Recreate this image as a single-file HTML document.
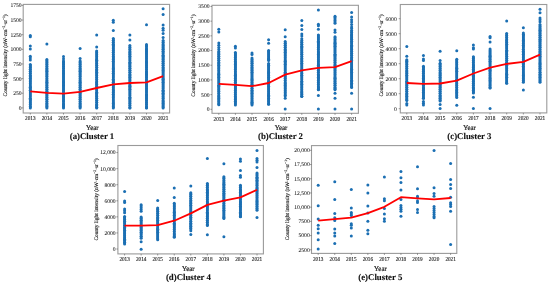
<!DOCTYPE html>
<html><head><meta charset="utf-8"><style>
html,body{margin:0;padding:0;background:#fff;}
body{width:550px;height:284px;overflow:hidden;}
svg{display:block;}
text{text-rendering:geometricPrecision;font-family:"Liberation Serif",serif;fill:#1a1a1a;stroke:#1a1a1a;stroke-width:0.06px;}
svg{will-change:transform;}
#wrap{width:550px;height:284px;}
.tk{font-size:5.6px;}
.tkx{font-size:5.95px;stroke-width:0.12px;}
.yl{font-size:5.45px;stroke-width:0.14px;}
.xl{font-size:7.2px;stroke-width:0.2px;}
.cap{font-size:8.8px;font-weight:bold;fill:#111;stroke:#111;stroke-width:0.1px;}
circle{fill:#1b6fb3;}
</style></head><body>
<div id="wrap"><svg width="550" height="284" viewBox="0 0 550 284">
<line x1="30.30" y1="65.10" x2="30.30" y2="107.30" stroke="#1b6fb3" stroke-width="2.5" stroke-linecap="round"/>
<circle cx="30.30" cy="64.50" r="1.5"/>
<circle cx="30.30" cy="65.95" r="1.5"/>
<circle cx="30.30" cy="67.55" r="1.5"/>
<circle cx="30.30" cy="69.30" r="1.5"/>
<circle cx="30.30" cy="71.20" r="1.5"/>
<circle cx="30.30" cy="73.25" r="1.5"/>
<circle cx="30.30" cy="75.45" r="1.5"/>
<circle cx="30.30" cy="76.83" r="1.5"/>
<circle cx="30.30" cy="78.35" r="1.5"/>
<circle cx="30.30" cy="80.03" r="1.5"/>
<circle cx="30.30" cy="81.85" r="1.5"/>
<circle cx="30.30" cy="83.83" r="1.5"/>
<circle cx="30.30" cy="85.95" r="1.5"/>
<circle cx="30.30" cy="87.25" r="1.5"/>
<circle cx="30.30" cy="88.70" r="1.5"/>
<circle cx="30.30" cy="90.30" r="1.5"/>
<circle cx="30.30" cy="92.05" r="1.5"/>
<circle cx="30.30" cy="93.95" r="1.5"/>
<circle cx="30.30" cy="96.00" r="1.5"/>
<circle cx="30.30" cy="98.20" r="1.5"/>
<circle cx="30.30" cy="99.58" r="1.5"/>
<circle cx="30.30" cy="101.10" r="1.5"/>
<circle cx="30.30" cy="102.78" r="1.5"/>
<circle cx="30.30" cy="104.60" r="1.5"/>
<circle cx="30.30" cy="106.58" r="1.5"/>
<circle cx="30.30" cy="107.90" r="1.5"/>
<circle cx="30.30" cy="60.00" r="1.5"/>
<circle cx="30.30" cy="58.10" r="1.5"/>
<circle cx="30.30" cy="56.20" r="1.5"/>
<circle cx="30.30" cy="49.00" r="1.5"/>
<circle cx="30.30" cy="45.90" r="1.5"/>
<circle cx="30.30" cy="36.80" r="1.5"/>
<circle cx="30.30" cy="35.40" r="1.5"/>
<line x1="46.90" y1="60.10" x2="46.90" y2="107.30" stroke="#1b6fb3" stroke-width="2.5" stroke-linecap="round"/>
<circle cx="46.90" cy="59.50" r="1.5"/>
<circle cx="46.90" cy="61.02" r="1.5"/>
<circle cx="46.90" cy="62.70" r="1.5"/>
<circle cx="46.90" cy="64.52" r="1.5"/>
<circle cx="46.90" cy="66.50" r="1.5"/>
<circle cx="46.90" cy="68.62" r="1.5"/>
<circle cx="46.90" cy="69.92" r="1.5"/>
<circle cx="46.90" cy="71.37" r="1.5"/>
<circle cx="46.90" cy="72.97" r="1.5"/>
<circle cx="46.90" cy="74.72" r="1.5"/>
<circle cx="46.90" cy="76.62" r="1.5"/>
<circle cx="46.90" cy="78.67" r="1.5"/>
<circle cx="46.90" cy="80.87" r="1.5"/>
<circle cx="46.90" cy="82.25" r="1.5"/>
<circle cx="46.90" cy="83.77" r="1.5"/>
<circle cx="46.90" cy="85.45" r="1.5"/>
<circle cx="46.90" cy="87.27" r="1.5"/>
<circle cx="46.90" cy="89.25" r="1.5"/>
<circle cx="46.90" cy="91.37" r="1.5"/>
<circle cx="46.90" cy="92.67" r="1.5"/>
<circle cx="46.90" cy="94.12" r="1.5"/>
<circle cx="46.90" cy="95.72" r="1.5"/>
<circle cx="46.90" cy="97.47" r="1.5"/>
<circle cx="46.90" cy="99.37" r="1.5"/>
<circle cx="46.90" cy="101.42" r="1.5"/>
<circle cx="46.90" cy="103.62" r="1.5"/>
<circle cx="46.90" cy="105.00" r="1.5"/>
<circle cx="46.90" cy="106.52" r="1.5"/>
<circle cx="46.90" cy="107.90" r="1.5"/>
<circle cx="46.90" cy="44.00" r="1.5"/>
<line x1="63.50" y1="61.60" x2="63.50" y2="107.30" stroke="#1b6fb3" stroke-width="2.5" stroke-linecap="round"/>
<circle cx="63.50" cy="61.00" r="1.5"/>
<circle cx="63.50" cy="62.60" r="1.5"/>
<circle cx="63.50" cy="64.35" r="1.5"/>
<circle cx="63.50" cy="66.25" r="1.5"/>
<circle cx="63.50" cy="68.30" r="1.5"/>
<circle cx="63.50" cy="70.50" r="1.5"/>
<circle cx="63.50" cy="71.88" r="1.5"/>
<circle cx="63.50" cy="73.40" r="1.5"/>
<circle cx="63.50" cy="75.08" r="1.5"/>
<circle cx="63.50" cy="76.90" r="1.5"/>
<circle cx="63.50" cy="78.88" r="1.5"/>
<circle cx="63.50" cy="81.00" r="1.5"/>
<circle cx="63.50" cy="82.30" r="1.5"/>
<circle cx="63.50" cy="83.75" r="1.5"/>
<circle cx="63.50" cy="85.35" r="1.5"/>
<circle cx="63.50" cy="87.10" r="1.5"/>
<circle cx="63.50" cy="89.00" r="1.5"/>
<circle cx="63.50" cy="91.05" r="1.5"/>
<circle cx="63.50" cy="93.25" r="1.5"/>
<circle cx="63.50" cy="94.62" r="1.5"/>
<circle cx="63.50" cy="96.15" r="1.5"/>
<circle cx="63.50" cy="97.83" r="1.5"/>
<circle cx="63.50" cy="99.65" r="1.5"/>
<circle cx="63.50" cy="101.62" r="1.5"/>
<circle cx="63.50" cy="103.75" r="1.5"/>
<circle cx="63.50" cy="105.05" r="1.5"/>
<circle cx="63.50" cy="106.50" r="1.5"/>
<circle cx="63.50" cy="107.90" r="1.5"/>
<circle cx="63.50" cy="58.70" r="1.5"/>
<circle cx="63.50" cy="56.50" r="1.5"/>
<line x1="80.10" y1="61.60" x2="80.10" y2="107.30" stroke="#1b6fb3" stroke-width="2.5" stroke-linecap="round"/>
<circle cx="80.10" cy="61.00" r="1.5"/>
<circle cx="80.10" cy="62.67" r="1.5"/>
<circle cx="80.10" cy="64.50" r="1.5"/>
<circle cx="80.10" cy="66.47" r="1.5"/>
<circle cx="80.10" cy="68.60" r="1.5"/>
<circle cx="80.10" cy="69.90" r="1.5"/>
<circle cx="80.10" cy="71.35" r="1.5"/>
<circle cx="80.10" cy="72.95" r="1.5"/>
<circle cx="80.10" cy="74.70" r="1.5"/>
<circle cx="80.10" cy="76.60" r="1.5"/>
<circle cx="80.10" cy="78.65" r="1.5"/>
<circle cx="80.10" cy="80.85" r="1.5"/>
<circle cx="80.10" cy="82.22" r="1.5"/>
<circle cx="80.10" cy="83.75" r="1.5"/>
<circle cx="80.10" cy="85.42" r="1.5"/>
<circle cx="80.10" cy="87.25" r="1.5"/>
<circle cx="80.10" cy="89.22" r="1.5"/>
<circle cx="80.10" cy="91.35" r="1.5"/>
<circle cx="80.10" cy="92.65" r="1.5"/>
<circle cx="80.10" cy="94.10" r="1.5"/>
<circle cx="80.10" cy="95.70" r="1.5"/>
<circle cx="80.10" cy="97.45" r="1.5"/>
<circle cx="80.10" cy="99.35" r="1.5"/>
<circle cx="80.10" cy="101.40" r="1.5"/>
<circle cx="80.10" cy="103.60" r="1.5"/>
<circle cx="80.10" cy="104.97" r="1.5"/>
<circle cx="80.10" cy="106.50" r="1.5"/>
<circle cx="80.10" cy="107.90" r="1.5"/>
<circle cx="80.10" cy="58.50" r="1.5"/>
<circle cx="80.10" cy="48.60" r="1.5"/>
<line x1="96.70" y1="51.60" x2="96.70" y2="107.30" stroke="#1b6fb3" stroke-width="2.5" stroke-linecap="round"/>
<circle cx="96.70" cy="51.00" r="1.5"/>
<circle cx="96.70" cy="52.75" r="1.5"/>
<circle cx="96.70" cy="54.65" r="1.5"/>
<circle cx="96.70" cy="56.70" r="1.5"/>
<circle cx="96.70" cy="58.90" r="1.5"/>
<circle cx="96.70" cy="60.27" r="1.5"/>
<circle cx="96.70" cy="61.80" r="1.5"/>
<circle cx="96.70" cy="63.47" r="1.5"/>
<circle cx="96.70" cy="65.30" r="1.5"/>
<circle cx="96.70" cy="67.27" r="1.5"/>
<circle cx="96.70" cy="69.40" r="1.5"/>
<circle cx="96.70" cy="70.70" r="1.5"/>
<circle cx="96.70" cy="72.15" r="1.5"/>
<circle cx="96.70" cy="73.75" r="1.5"/>
<circle cx="96.70" cy="75.50" r="1.5"/>
<circle cx="96.70" cy="77.40" r="1.5"/>
<circle cx="96.70" cy="79.45" r="1.5"/>
<circle cx="96.70" cy="81.65" r="1.5"/>
<circle cx="96.70" cy="83.02" r="1.5"/>
<circle cx="96.70" cy="84.55" r="1.5"/>
<circle cx="96.70" cy="86.22" r="1.5"/>
<circle cx="96.70" cy="88.05" r="1.5"/>
<circle cx="96.70" cy="90.02" r="1.5"/>
<circle cx="96.70" cy="92.15" r="1.5"/>
<circle cx="96.70" cy="93.45" r="1.5"/>
<circle cx="96.70" cy="94.90" r="1.5"/>
<circle cx="96.70" cy="96.50" r="1.5"/>
<circle cx="96.70" cy="98.25" r="1.5"/>
<circle cx="96.70" cy="100.15" r="1.5"/>
<circle cx="96.70" cy="102.20" r="1.5"/>
<circle cx="96.70" cy="104.40" r="1.5"/>
<circle cx="96.70" cy="105.77" r="1.5"/>
<circle cx="96.70" cy="107.30" r="1.5"/>
<circle cx="96.70" cy="107.90" r="1.5"/>
<circle cx="96.70" cy="46.90" r="1.5"/>
<circle cx="96.70" cy="34.90" r="1.5"/>
<line x1="113.30" y1="39.00" x2="113.30" y2="107.30" stroke="#1b6fb3" stroke-width="2.5" stroke-linecap="round"/>
<circle cx="113.30" cy="38.40" r="1.5"/>
<circle cx="113.30" cy="40.23" r="1.5"/>
<circle cx="113.30" cy="42.20" r="1.5"/>
<circle cx="113.30" cy="44.33" r="1.5"/>
<circle cx="113.30" cy="45.62" r="1.5"/>
<circle cx="113.30" cy="47.08" r="1.5"/>
<circle cx="113.30" cy="48.68" r="1.5"/>
<circle cx="113.30" cy="50.43" r="1.5"/>
<circle cx="113.30" cy="52.33" r="1.5"/>
<circle cx="113.30" cy="54.38" r="1.5"/>
<circle cx="113.30" cy="56.58" r="1.5"/>
<circle cx="113.30" cy="57.95" r="1.5"/>
<circle cx="113.30" cy="59.48" r="1.5"/>
<circle cx="113.30" cy="61.15" r="1.5"/>
<circle cx="113.30" cy="62.98" r="1.5"/>
<circle cx="113.30" cy="64.95" r="1.5"/>
<circle cx="113.30" cy="67.08" r="1.5"/>
<circle cx="113.30" cy="68.38" r="1.5"/>
<circle cx="113.30" cy="69.83" r="1.5"/>
<circle cx="113.30" cy="71.42" r="1.5"/>
<circle cx="113.30" cy="73.17" r="1.5"/>
<circle cx="113.30" cy="75.08" r="1.5"/>
<circle cx="113.30" cy="77.12" r="1.5"/>
<circle cx="113.30" cy="79.33" r="1.5"/>
<circle cx="113.30" cy="80.70" r="1.5"/>
<circle cx="113.30" cy="82.23" r="1.5"/>
<circle cx="113.30" cy="83.90" r="1.5"/>
<circle cx="113.30" cy="85.73" r="1.5"/>
<circle cx="113.30" cy="87.70" r="1.5"/>
<circle cx="113.30" cy="89.83" r="1.5"/>
<circle cx="113.30" cy="91.12" r="1.5"/>
<circle cx="113.30" cy="92.58" r="1.5"/>
<circle cx="113.30" cy="94.17" r="1.5"/>
<circle cx="113.30" cy="95.92" r="1.5"/>
<circle cx="113.30" cy="97.83" r="1.5"/>
<circle cx="113.30" cy="99.88" r="1.5"/>
<circle cx="113.30" cy="102.08" r="1.5"/>
<circle cx="113.30" cy="103.45" r="1.5"/>
<circle cx="113.30" cy="104.98" r="1.5"/>
<circle cx="113.30" cy="106.65" r="1.5"/>
<circle cx="113.30" cy="107.90" r="1.5"/>
<circle cx="113.30" cy="30.60" r="1.5"/>
<circle cx="113.30" cy="22.30" r="1.5"/>
<circle cx="113.30" cy="20.30" r="1.5"/>
<line x1="129.90" y1="46.10" x2="129.90" y2="107.30" stroke="#1b6fb3" stroke-width="2.5" stroke-linecap="round"/>
<circle cx="129.90" cy="45.50" r="1.5"/>
<circle cx="129.90" cy="47.40" r="1.5"/>
<circle cx="129.90" cy="49.45" r="1.5"/>
<circle cx="129.90" cy="51.65" r="1.5"/>
<circle cx="129.90" cy="53.02" r="1.5"/>
<circle cx="129.90" cy="54.55" r="1.5"/>
<circle cx="129.90" cy="56.22" r="1.5"/>
<circle cx="129.90" cy="58.05" r="1.5"/>
<circle cx="129.90" cy="60.02" r="1.5"/>
<circle cx="129.90" cy="62.15" r="1.5"/>
<circle cx="129.90" cy="63.45" r="1.5"/>
<circle cx="129.90" cy="64.90" r="1.5"/>
<circle cx="129.90" cy="66.50" r="1.5"/>
<circle cx="129.90" cy="68.25" r="1.5"/>
<circle cx="129.90" cy="70.15" r="1.5"/>
<circle cx="129.90" cy="72.20" r="1.5"/>
<circle cx="129.90" cy="74.40" r="1.5"/>
<circle cx="129.90" cy="75.77" r="1.5"/>
<circle cx="129.90" cy="77.30" r="1.5"/>
<circle cx="129.90" cy="78.97" r="1.5"/>
<circle cx="129.90" cy="80.80" r="1.5"/>
<circle cx="129.90" cy="82.77" r="1.5"/>
<circle cx="129.90" cy="84.90" r="1.5"/>
<circle cx="129.90" cy="86.20" r="1.5"/>
<circle cx="129.90" cy="87.65" r="1.5"/>
<circle cx="129.90" cy="89.25" r="1.5"/>
<circle cx="129.90" cy="91.00" r="1.5"/>
<circle cx="129.90" cy="92.90" r="1.5"/>
<circle cx="129.90" cy="94.95" r="1.5"/>
<circle cx="129.90" cy="97.15" r="1.5"/>
<circle cx="129.90" cy="98.52" r="1.5"/>
<circle cx="129.90" cy="100.05" r="1.5"/>
<circle cx="129.90" cy="101.72" r="1.5"/>
<circle cx="129.90" cy="103.55" r="1.5"/>
<circle cx="129.90" cy="105.52" r="1.5"/>
<circle cx="129.90" cy="107.65" r="1.5"/>
<circle cx="129.90" cy="107.90" r="1.5"/>
<circle cx="129.90" cy="40.10" r="1.5"/>
<circle cx="129.90" cy="34.90" r="1.5"/>
<line x1="146.50" y1="45.20" x2="146.50" y2="107.30" stroke="#1b6fb3" stroke-width="2.5" stroke-linecap="round"/>
<circle cx="146.50" cy="44.60" r="1.5"/>
<circle cx="146.50" cy="46.58" r="1.5"/>
<circle cx="146.50" cy="48.70" r="1.5"/>
<circle cx="146.50" cy="50.00" r="1.5"/>
<circle cx="146.50" cy="51.45" r="1.5"/>
<circle cx="146.50" cy="53.05" r="1.5"/>
<circle cx="146.50" cy="54.80" r="1.5"/>
<circle cx="146.50" cy="56.70" r="1.5"/>
<circle cx="146.50" cy="58.75" r="1.5"/>
<circle cx="146.50" cy="60.95" r="1.5"/>
<circle cx="146.50" cy="62.33" r="1.5"/>
<circle cx="146.50" cy="63.85" r="1.5"/>
<circle cx="146.50" cy="65.53" r="1.5"/>
<circle cx="146.50" cy="67.35" r="1.5"/>
<circle cx="146.50" cy="69.33" r="1.5"/>
<circle cx="146.50" cy="71.45" r="1.5"/>
<circle cx="146.50" cy="72.75" r="1.5"/>
<circle cx="146.50" cy="74.20" r="1.5"/>
<circle cx="146.50" cy="75.80" r="1.5"/>
<circle cx="146.50" cy="77.55" r="1.5"/>
<circle cx="146.50" cy="79.45" r="1.5"/>
<circle cx="146.50" cy="81.50" r="1.5"/>
<circle cx="146.50" cy="83.70" r="1.5"/>
<circle cx="146.50" cy="85.08" r="1.5"/>
<circle cx="146.50" cy="86.60" r="1.5"/>
<circle cx="146.50" cy="88.28" r="1.5"/>
<circle cx="146.50" cy="90.10" r="1.5"/>
<circle cx="146.50" cy="92.08" r="1.5"/>
<circle cx="146.50" cy="94.20" r="1.5"/>
<circle cx="146.50" cy="95.50" r="1.5"/>
<circle cx="146.50" cy="96.95" r="1.5"/>
<circle cx="146.50" cy="98.55" r="1.5"/>
<circle cx="146.50" cy="100.30" r="1.5"/>
<circle cx="146.50" cy="102.20" r="1.5"/>
<circle cx="146.50" cy="104.25" r="1.5"/>
<circle cx="146.50" cy="106.45" r="1.5"/>
<circle cx="146.50" cy="107.83" r="1.5"/>
<circle cx="146.50" cy="107.90" r="1.5"/>
<circle cx="146.50" cy="24.80" r="1.5"/>
<line x1="163.10" y1="41.10" x2="163.10" y2="107.30" stroke="#1b6fb3" stroke-width="2.5" stroke-linecap="round"/>
<circle cx="163.10" cy="40.50" r="1.5"/>
<circle cx="163.10" cy="42.55" r="1.5"/>
<circle cx="163.10" cy="44.75" r="1.5"/>
<circle cx="163.10" cy="46.12" r="1.5"/>
<circle cx="163.10" cy="47.65" r="1.5"/>
<circle cx="163.10" cy="49.32" r="1.5"/>
<circle cx="163.10" cy="51.15" r="1.5"/>
<circle cx="163.10" cy="53.12" r="1.5"/>
<circle cx="163.10" cy="55.25" r="1.5"/>
<circle cx="163.10" cy="56.55" r="1.5"/>
<circle cx="163.10" cy="58.00" r="1.5"/>
<circle cx="163.10" cy="59.60" r="1.5"/>
<circle cx="163.10" cy="61.35" r="1.5"/>
<circle cx="163.10" cy="63.25" r="1.5"/>
<circle cx="163.10" cy="65.30" r="1.5"/>
<circle cx="163.10" cy="67.50" r="1.5"/>
<circle cx="163.10" cy="68.88" r="1.5"/>
<circle cx="163.10" cy="70.40" r="1.5"/>
<circle cx="163.10" cy="72.08" r="1.5"/>
<circle cx="163.10" cy="73.90" r="1.5"/>
<circle cx="163.10" cy="75.88" r="1.5"/>
<circle cx="163.10" cy="78.00" r="1.5"/>
<circle cx="163.10" cy="79.30" r="1.5"/>
<circle cx="163.10" cy="80.75" r="1.5"/>
<circle cx="163.10" cy="82.35" r="1.5"/>
<circle cx="163.10" cy="84.10" r="1.5"/>
<circle cx="163.10" cy="86.00" r="1.5"/>
<circle cx="163.10" cy="88.05" r="1.5"/>
<circle cx="163.10" cy="90.25" r="1.5"/>
<circle cx="163.10" cy="91.62" r="1.5"/>
<circle cx="163.10" cy="93.15" r="1.5"/>
<circle cx="163.10" cy="94.83" r="1.5"/>
<circle cx="163.10" cy="96.65" r="1.5"/>
<circle cx="163.10" cy="98.62" r="1.5"/>
<circle cx="163.10" cy="100.75" r="1.5"/>
<circle cx="163.10" cy="102.05" r="1.5"/>
<circle cx="163.10" cy="103.50" r="1.5"/>
<circle cx="163.10" cy="105.10" r="1.5"/>
<circle cx="163.10" cy="106.85" r="1.5"/>
<circle cx="163.10" cy="107.90" r="1.5"/>
<circle cx="163.10" cy="37.60" r="1.5"/>
<circle cx="163.10" cy="33.50" r="1.5"/>
<circle cx="163.10" cy="30.30" r="1.5"/>
<circle cx="163.10" cy="28.20" r="1.5"/>
<circle cx="163.10" cy="25.00" r="1.5"/>
<circle cx="163.10" cy="14.40" r="1.5"/>
<circle cx="163.10" cy="8.80" r="1.5"/>
<polyline points="30.30,91.30 46.90,92.90 63.50,93.70 80.10,91.90 96.70,88.00 113.30,84.40 129.90,83.00 146.50,82.40 163.10,76.20" fill="none" stroke="#ff0000" stroke-width="1.8" stroke-linejoin="round"/>
<rect x="23.20" y="4.40" width="146.40" height="108.60" fill="none" stroke="#9a9a9a" stroke-width="1.1"/>
<line x1="21.60" y1="107.90" x2="23.20" y2="107.90" stroke="#444" stroke-width="0.5"/>
<text x="21.60" y="109.80" class="tk" text-anchor="end">0</text>
<line x1="21.60" y1="93.26" x2="23.20" y2="93.26" stroke="#444" stroke-width="0.5"/>
<text x="21.60" y="95.16" class="tk" text-anchor="end">250</text>
<line x1="21.60" y1="78.62" x2="23.20" y2="78.62" stroke="#444" stroke-width="0.5"/>
<text x="21.60" y="80.52" class="tk" text-anchor="end">500</text>
<line x1="21.60" y1="63.98" x2="23.20" y2="63.98" stroke="#444" stroke-width="0.5"/>
<text x="21.60" y="65.88" class="tk" text-anchor="end">750</text>
<line x1="21.60" y1="49.34" x2="23.20" y2="49.34" stroke="#444" stroke-width="0.5"/>
<text x="21.60" y="51.24" class="tk" text-anchor="end">1000</text>
<line x1="21.60" y1="34.70" x2="23.20" y2="34.70" stroke="#444" stroke-width="0.5"/>
<text x="21.60" y="36.60" class="tk" text-anchor="end">1250</text>
<line x1="21.60" y1="20.06" x2="23.20" y2="20.06" stroke="#444" stroke-width="0.5"/>
<text x="21.60" y="21.96" class="tk" text-anchor="end">1500</text>
<line x1="21.60" y1="5.42" x2="23.20" y2="5.42" stroke="#444" stroke-width="0.5"/>
<text x="21.60" y="7.32" class="tk" text-anchor="end">1750</text>
<line x1="30.30" y1="113.00" x2="30.30" y2="114.60" stroke="#444" stroke-width="0.5"/>
<text transform="translate(30.30,120.35) scale(0.88,1)" class="tkx" text-anchor="middle">2013</text>
<line x1="46.90" y1="113.00" x2="46.90" y2="114.60" stroke="#444" stroke-width="0.5"/>
<text transform="translate(46.90,120.35) scale(0.88,1)" class="tkx" text-anchor="middle">2014</text>
<line x1="63.50" y1="113.00" x2="63.50" y2="114.60" stroke="#444" stroke-width="0.5"/>
<text transform="translate(63.50,120.35) scale(0.88,1)" class="tkx" text-anchor="middle">2015</text>
<line x1="80.10" y1="113.00" x2="80.10" y2="114.60" stroke="#444" stroke-width="0.5"/>
<text transform="translate(80.10,120.35) scale(0.88,1)" class="tkx" text-anchor="middle">2016</text>
<line x1="96.70" y1="113.00" x2="96.70" y2="114.60" stroke="#444" stroke-width="0.5"/>
<text transform="translate(96.70,120.35) scale(0.88,1)" class="tkx" text-anchor="middle">2017</text>
<line x1="113.30" y1="113.00" x2="113.30" y2="114.60" stroke="#444" stroke-width="0.5"/>
<text transform="translate(113.30,120.35) scale(0.88,1)" class="tkx" text-anchor="middle">2018</text>
<line x1="129.90" y1="113.00" x2="129.90" y2="114.60" stroke="#444" stroke-width="0.5"/>
<text transform="translate(129.90,120.35) scale(0.88,1)" class="tkx" text-anchor="middle">2019</text>
<line x1="146.50" y1="113.00" x2="146.50" y2="114.60" stroke="#444" stroke-width="0.5"/>
<text transform="translate(146.50,120.35) scale(0.88,1)" class="tkx" text-anchor="middle">2020</text>
<line x1="163.10" y1="113.00" x2="163.10" y2="114.60" stroke="#444" stroke-width="0.5"/>
<text transform="translate(163.10,120.35) scale(0.88,1)" class="tkx" text-anchor="middle">2021</text>
<text class="yl" transform="translate(7.40,55.40) rotate(-90)" text-anchor="middle">County light intensity (nW·cm<tspan baseline-shift="super" font-size="3.6">−2</tspan>·sr<tspan baseline-shift="super" font-size="3.6">−1</tspan>)</text>
<text class="xl" transform="translate(92.30,130.10) scale(0.95,1)" text-anchor="middle">Year</text>
<text class="cap" x="92.00" y="139.00" text-anchor="middle">(a)Cluster 1</text>
<line x1="218.80" y1="52.10" x2="218.80" y2="104.10" stroke="#1b6fb3" stroke-width="2.5" stroke-linecap="round"/>
<circle cx="218.80" cy="51.50" r="1.5"/>
<circle cx="218.80" cy="52.95" r="1.5"/>
<circle cx="218.80" cy="54.55" r="1.5"/>
<circle cx="218.80" cy="56.30" r="1.5"/>
<circle cx="218.80" cy="58.20" r="1.5"/>
<circle cx="218.80" cy="60.25" r="1.5"/>
<circle cx="218.80" cy="62.45" r="1.5"/>
<circle cx="218.80" cy="63.83" r="1.5"/>
<circle cx="218.80" cy="65.35" r="1.5"/>
<circle cx="218.80" cy="67.03" r="1.5"/>
<circle cx="218.80" cy="68.85" r="1.5"/>
<circle cx="218.80" cy="70.83" r="1.5"/>
<circle cx="218.80" cy="72.95" r="1.5"/>
<circle cx="218.80" cy="74.25" r="1.5"/>
<circle cx="218.80" cy="75.70" r="1.5"/>
<circle cx="218.80" cy="77.30" r="1.5"/>
<circle cx="218.80" cy="79.05" r="1.5"/>
<circle cx="218.80" cy="80.95" r="1.5"/>
<circle cx="218.80" cy="83.00" r="1.5"/>
<circle cx="218.80" cy="85.20" r="1.5"/>
<circle cx="218.80" cy="86.58" r="1.5"/>
<circle cx="218.80" cy="88.10" r="1.5"/>
<circle cx="218.80" cy="89.78" r="1.5"/>
<circle cx="218.80" cy="91.60" r="1.5"/>
<circle cx="218.80" cy="93.58" r="1.5"/>
<circle cx="218.80" cy="95.70" r="1.5"/>
<circle cx="218.80" cy="97.00" r="1.5"/>
<circle cx="218.80" cy="98.45" r="1.5"/>
<circle cx="218.80" cy="100.05" r="1.5"/>
<circle cx="218.80" cy="101.80" r="1.5"/>
<circle cx="218.80" cy="103.70" r="1.5"/>
<circle cx="218.80" cy="104.70" r="1.5"/>
<circle cx="218.80" cy="29.20" r="1.5"/>
<circle cx="218.80" cy="32.00" r="1.5"/>
<circle cx="218.80" cy="43.00" r="1.5"/>
<circle cx="218.80" cy="45.20" r="1.5"/>
<circle cx="218.80" cy="47.40" r="1.5"/>
<circle cx="218.80" cy="49.60" r="1.5"/>
<line x1="235.40" y1="53.10" x2="235.40" y2="104.30" stroke="#1b6fb3" stroke-width="2.5" stroke-linecap="round"/>
<circle cx="235.40" cy="52.50" r="1.5"/>
<circle cx="235.40" cy="54.02" r="1.5"/>
<circle cx="235.40" cy="55.70" r="1.5"/>
<circle cx="235.40" cy="57.52" r="1.5"/>
<circle cx="235.40" cy="59.50" r="1.5"/>
<circle cx="235.40" cy="61.62" r="1.5"/>
<circle cx="235.40" cy="62.92" r="1.5"/>
<circle cx="235.40" cy="64.38" r="1.5"/>
<circle cx="235.40" cy="65.97" r="1.5"/>
<circle cx="235.40" cy="67.72" r="1.5"/>
<circle cx="235.40" cy="69.62" r="1.5"/>
<circle cx="235.40" cy="71.67" r="1.5"/>
<circle cx="235.40" cy="73.88" r="1.5"/>
<circle cx="235.40" cy="75.25" r="1.5"/>
<circle cx="235.40" cy="76.78" r="1.5"/>
<circle cx="235.40" cy="78.45" r="1.5"/>
<circle cx="235.40" cy="80.28" r="1.5"/>
<circle cx="235.40" cy="82.25" r="1.5"/>
<circle cx="235.40" cy="84.38" r="1.5"/>
<circle cx="235.40" cy="85.67" r="1.5"/>
<circle cx="235.40" cy="87.12" r="1.5"/>
<circle cx="235.40" cy="88.72" r="1.5"/>
<circle cx="235.40" cy="90.47" r="1.5"/>
<circle cx="235.40" cy="92.38" r="1.5"/>
<circle cx="235.40" cy="94.42" r="1.5"/>
<circle cx="235.40" cy="96.62" r="1.5"/>
<circle cx="235.40" cy="98.00" r="1.5"/>
<circle cx="235.40" cy="99.53" r="1.5"/>
<circle cx="235.40" cy="101.20" r="1.5"/>
<circle cx="235.40" cy="103.03" r="1.5"/>
<circle cx="235.40" cy="104.90" r="1.5"/>
<circle cx="235.40" cy="46.20" r="1.5"/>
<circle cx="235.40" cy="48.00" r="1.5"/>
<line x1="252.00" y1="58.70" x2="252.00" y2="104.40" stroke="#1b6fb3" stroke-width="2.5" stroke-linecap="round"/>
<circle cx="252.00" cy="58.10" r="1.5"/>
<circle cx="252.00" cy="59.70" r="1.5"/>
<circle cx="252.00" cy="61.45" r="1.5"/>
<circle cx="252.00" cy="63.35" r="1.5"/>
<circle cx="252.00" cy="65.40" r="1.5"/>
<circle cx="252.00" cy="67.60" r="1.5"/>
<circle cx="252.00" cy="68.98" r="1.5"/>
<circle cx="252.00" cy="70.50" r="1.5"/>
<circle cx="252.00" cy="72.18" r="1.5"/>
<circle cx="252.00" cy="74.00" r="1.5"/>
<circle cx="252.00" cy="75.98" r="1.5"/>
<circle cx="252.00" cy="78.10" r="1.5"/>
<circle cx="252.00" cy="79.40" r="1.5"/>
<circle cx="252.00" cy="80.85" r="1.5"/>
<circle cx="252.00" cy="82.45" r="1.5"/>
<circle cx="252.00" cy="84.20" r="1.5"/>
<circle cx="252.00" cy="86.10" r="1.5"/>
<circle cx="252.00" cy="88.15" r="1.5"/>
<circle cx="252.00" cy="90.35" r="1.5"/>
<circle cx="252.00" cy="91.73" r="1.5"/>
<circle cx="252.00" cy="93.25" r="1.5"/>
<circle cx="252.00" cy="94.93" r="1.5"/>
<circle cx="252.00" cy="96.75" r="1.5"/>
<circle cx="252.00" cy="98.73" r="1.5"/>
<circle cx="252.00" cy="100.85" r="1.5"/>
<circle cx="252.00" cy="102.15" r="1.5"/>
<circle cx="252.00" cy="103.60" r="1.5"/>
<circle cx="252.00" cy="105.00" r="1.5"/>
<circle cx="252.00" cy="52.90" r="1.5"/>
<circle cx="252.00" cy="54.60" r="1.5"/>
<line x1="268.60" y1="51.00" x2="268.60" y2="59.90" stroke="#1b6fb3" stroke-width="2.5" stroke-linecap="round"/>
<circle cx="268.60" cy="50.40" r="1.5"/>
<circle cx="268.60" cy="52.07" r="1.5"/>
<circle cx="268.60" cy="53.90" r="1.5"/>
<circle cx="268.60" cy="55.88" r="1.5"/>
<circle cx="268.60" cy="58.00" r="1.5"/>
<circle cx="268.60" cy="59.30" r="1.5"/>
<circle cx="268.60" cy="60.50" r="1.5"/>
<line x1="268.60" y1="64.10" x2="268.60" y2="103.60" stroke="#1b6fb3" stroke-width="2.5" stroke-linecap="round"/>
<circle cx="268.60" cy="63.50" r="1.5"/>
<circle cx="268.60" cy="65.17" r="1.5"/>
<circle cx="268.60" cy="67.00" r="1.5"/>
<circle cx="268.60" cy="68.97" r="1.5"/>
<circle cx="268.60" cy="71.10" r="1.5"/>
<circle cx="268.60" cy="72.40" r="1.5"/>
<circle cx="268.60" cy="73.85" r="1.5"/>
<circle cx="268.60" cy="75.45" r="1.5"/>
<circle cx="268.60" cy="77.20" r="1.5"/>
<circle cx="268.60" cy="79.10" r="1.5"/>
<circle cx="268.60" cy="81.15" r="1.5"/>
<circle cx="268.60" cy="83.35" r="1.5"/>
<circle cx="268.60" cy="84.72" r="1.5"/>
<circle cx="268.60" cy="86.25" r="1.5"/>
<circle cx="268.60" cy="87.92" r="1.5"/>
<circle cx="268.60" cy="89.75" r="1.5"/>
<circle cx="268.60" cy="91.72" r="1.5"/>
<circle cx="268.60" cy="93.85" r="1.5"/>
<circle cx="268.60" cy="95.15" r="1.5"/>
<circle cx="268.60" cy="96.60" r="1.5"/>
<circle cx="268.60" cy="98.20" r="1.5"/>
<circle cx="268.60" cy="99.95" r="1.5"/>
<circle cx="268.60" cy="101.85" r="1.5"/>
<circle cx="268.60" cy="103.90" r="1.5"/>
<circle cx="268.60" cy="104.20" r="1.5"/>
<circle cx="268.60" cy="39.80" r="1.5"/>
<circle cx="268.60" cy="43.30" r="1.5"/>
<line x1="285.20" y1="42.10" x2="285.20" y2="95.30" stroke="#1b6fb3" stroke-width="2.5" stroke-linecap="round"/>
<circle cx="285.20" cy="41.50" r="1.5"/>
<circle cx="285.20" cy="43.25" r="1.5"/>
<circle cx="285.20" cy="45.15" r="1.5"/>
<circle cx="285.20" cy="47.20" r="1.5"/>
<circle cx="285.20" cy="49.40" r="1.5"/>
<circle cx="285.20" cy="50.77" r="1.5"/>
<circle cx="285.20" cy="52.30" r="1.5"/>
<circle cx="285.20" cy="53.97" r="1.5"/>
<circle cx="285.20" cy="55.80" r="1.5"/>
<circle cx="285.20" cy="57.77" r="1.5"/>
<circle cx="285.20" cy="59.90" r="1.5"/>
<circle cx="285.20" cy="61.20" r="1.5"/>
<circle cx="285.20" cy="62.65" r="1.5"/>
<circle cx="285.20" cy="64.25" r="1.5"/>
<circle cx="285.20" cy="66.00" r="1.5"/>
<circle cx="285.20" cy="67.90" r="1.5"/>
<circle cx="285.20" cy="69.95" r="1.5"/>
<circle cx="285.20" cy="72.15" r="1.5"/>
<circle cx="285.20" cy="73.53" r="1.5"/>
<circle cx="285.20" cy="75.05" r="1.5"/>
<circle cx="285.20" cy="76.73" r="1.5"/>
<circle cx="285.20" cy="78.55" r="1.5"/>
<circle cx="285.20" cy="80.53" r="1.5"/>
<circle cx="285.20" cy="82.65" r="1.5"/>
<circle cx="285.20" cy="83.95" r="1.5"/>
<circle cx="285.20" cy="85.40" r="1.5"/>
<circle cx="285.20" cy="87.00" r="1.5"/>
<circle cx="285.20" cy="88.75" r="1.5"/>
<circle cx="285.20" cy="90.65" r="1.5"/>
<circle cx="285.20" cy="92.70" r="1.5"/>
<circle cx="285.20" cy="94.90" r="1.5"/>
<circle cx="285.20" cy="95.90" r="1.5"/>
<circle cx="285.20" cy="29.70" r="1.5"/>
<circle cx="285.20" cy="36.70" r="1.5"/>
<circle cx="285.20" cy="98.30" r="1.5"/>
<circle cx="285.20" cy="108.90" r="1.5"/>
<line x1="301.80" y1="41.00" x2="301.80" y2="96.00" stroke="#1b6fb3" stroke-width="2.5" stroke-linecap="round"/>
<circle cx="301.80" cy="40.40" r="1.5"/>
<circle cx="301.80" cy="42.23" r="1.5"/>
<circle cx="301.80" cy="44.20" r="1.5"/>
<circle cx="301.80" cy="46.33" r="1.5"/>
<circle cx="301.80" cy="47.62" r="1.5"/>
<circle cx="301.80" cy="49.08" r="1.5"/>
<circle cx="301.80" cy="50.68" r="1.5"/>
<circle cx="301.80" cy="52.43" r="1.5"/>
<circle cx="301.80" cy="54.33" r="1.5"/>
<circle cx="301.80" cy="56.38" r="1.5"/>
<circle cx="301.80" cy="58.58" r="1.5"/>
<circle cx="301.80" cy="59.95" r="1.5"/>
<circle cx="301.80" cy="61.48" r="1.5"/>
<circle cx="301.80" cy="63.15" r="1.5"/>
<circle cx="301.80" cy="64.97" r="1.5"/>
<circle cx="301.80" cy="66.95" r="1.5"/>
<circle cx="301.80" cy="69.07" r="1.5"/>
<circle cx="301.80" cy="70.37" r="1.5"/>
<circle cx="301.80" cy="71.82" r="1.5"/>
<circle cx="301.80" cy="73.42" r="1.5"/>
<circle cx="301.80" cy="75.17" r="1.5"/>
<circle cx="301.80" cy="77.07" r="1.5"/>
<circle cx="301.80" cy="79.12" r="1.5"/>
<circle cx="301.80" cy="81.32" r="1.5"/>
<circle cx="301.80" cy="82.70" r="1.5"/>
<circle cx="301.80" cy="84.22" r="1.5"/>
<circle cx="301.80" cy="85.90" r="1.5"/>
<circle cx="301.80" cy="87.72" r="1.5"/>
<circle cx="301.80" cy="89.70" r="1.5"/>
<circle cx="301.80" cy="91.82" r="1.5"/>
<circle cx="301.80" cy="93.12" r="1.5"/>
<circle cx="301.80" cy="94.57" r="1.5"/>
<circle cx="301.80" cy="96.17" r="1.5"/>
<circle cx="301.80" cy="96.60" r="1.5"/>
<circle cx="301.80" cy="20.50" r="1.5"/>
<circle cx="301.80" cy="25.40" r="1.5"/>
<circle cx="301.80" cy="29.60" r="1.5"/>
<circle cx="301.80" cy="34.10" r="1.5"/>
<circle cx="301.80" cy="36.00" r="1.5"/>
<circle cx="301.80" cy="38.80" r="1.5"/>
<line x1="318.40" y1="35.60" x2="318.40" y2="89.20" stroke="#1b6fb3" stroke-width="2.5" stroke-linecap="round"/>
<circle cx="318.40" cy="35.00" r="1.5"/>
<circle cx="318.40" cy="36.90" r="1.5"/>
<circle cx="318.40" cy="38.95" r="1.5"/>
<circle cx="318.40" cy="41.15" r="1.5"/>
<circle cx="318.40" cy="42.52" r="1.5"/>
<circle cx="318.40" cy="44.05" r="1.5"/>
<circle cx="318.40" cy="45.72" r="1.5"/>
<circle cx="318.40" cy="47.55" r="1.5"/>
<circle cx="318.40" cy="49.52" r="1.5"/>
<circle cx="318.40" cy="51.65" r="1.5"/>
<circle cx="318.40" cy="52.95" r="1.5"/>
<circle cx="318.40" cy="54.40" r="1.5"/>
<circle cx="318.40" cy="56.00" r="1.5"/>
<circle cx="318.40" cy="57.75" r="1.5"/>
<circle cx="318.40" cy="59.65" r="1.5"/>
<circle cx="318.40" cy="61.70" r="1.5"/>
<circle cx="318.40" cy="63.90" r="1.5"/>
<circle cx="318.40" cy="65.28" r="1.5"/>
<circle cx="318.40" cy="66.80" r="1.5"/>
<circle cx="318.40" cy="68.48" r="1.5"/>
<circle cx="318.40" cy="70.30" r="1.5"/>
<circle cx="318.40" cy="72.28" r="1.5"/>
<circle cx="318.40" cy="74.40" r="1.5"/>
<circle cx="318.40" cy="75.70" r="1.5"/>
<circle cx="318.40" cy="77.15" r="1.5"/>
<circle cx="318.40" cy="78.75" r="1.5"/>
<circle cx="318.40" cy="80.50" r="1.5"/>
<circle cx="318.40" cy="82.40" r="1.5"/>
<circle cx="318.40" cy="84.45" r="1.5"/>
<circle cx="318.40" cy="86.65" r="1.5"/>
<circle cx="318.40" cy="88.03" r="1.5"/>
<circle cx="318.40" cy="89.55" r="1.5"/>
<circle cx="318.40" cy="89.80" r="1.5"/>
<circle cx="318.40" cy="9.90" r="1.5"/>
<circle cx="318.40" cy="24.30" r="1.5"/>
<circle cx="318.40" cy="25.70" r="1.5"/>
<circle cx="318.40" cy="29.20" r="1.5"/>
<circle cx="318.40" cy="95.50" r="1.5"/>
<circle cx="318.40" cy="108.90" r="1.5"/>
<line x1="335.00" y1="38.40" x2="335.00" y2="89.20" stroke="#1b6fb3" stroke-width="2.5" stroke-linecap="round"/>
<circle cx="335.00" cy="37.80" r="1.5"/>
<circle cx="335.00" cy="39.77" r="1.5"/>
<circle cx="335.00" cy="41.90" r="1.5"/>
<circle cx="335.00" cy="43.20" r="1.5"/>
<circle cx="335.00" cy="44.65" r="1.5"/>
<circle cx="335.00" cy="46.25" r="1.5"/>
<circle cx="335.00" cy="48.00" r="1.5"/>
<circle cx="335.00" cy="49.90" r="1.5"/>
<circle cx="335.00" cy="51.95" r="1.5"/>
<circle cx="335.00" cy="54.15" r="1.5"/>
<circle cx="335.00" cy="55.52" r="1.5"/>
<circle cx="335.00" cy="57.05" r="1.5"/>
<circle cx="335.00" cy="58.72" r="1.5"/>
<circle cx="335.00" cy="60.55" r="1.5"/>
<circle cx="335.00" cy="62.52" r="1.5"/>
<circle cx="335.00" cy="64.65" r="1.5"/>
<circle cx="335.00" cy="65.95" r="1.5"/>
<circle cx="335.00" cy="67.40" r="1.5"/>
<circle cx="335.00" cy="69.00" r="1.5"/>
<circle cx="335.00" cy="70.75" r="1.5"/>
<circle cx="335.00" cy="72.65" r="1.5"/>
<circle cx="335.00" cy="74.70" r="1.5"/>
<circle cx="335.00" cy="76.90" r="1.5"/>
<circle cx="335.00" cy="78.28" r="1.5"/>
<circle cx="335.00" cy="79.80" r="1.5"/>
<circle cx="335.00" cy="81.48" r="1.5"/>
<circle cx="335.00" cy="83.30" r="1.5"/>
<circle cx="335.00" cy="85.28" r="1.5"/>
<circle cx="335.00" cy="87.40" r="1.5"/>
<circle cx="335.00" cy="88.70" r="1.5"/>
<circle cx="335.00" cy="89.80" r="1.5"/>
<circle cx="335.00" cy="16.20" r="1.5"/>
<circle cx="335.00" cy="17.60" r="1.5"/>
<circle cx="335.00" cy="19.00" r="1.5"/>
<circle cx="335.00" cy="20.50" r="1.5"/>
<circle cx="335.00" cy="22.00" r="1.5"/>
<circle cx="335.00" cy="23.30" r="1.5"/>
<circle cx="335.00" cy="29.90" r="1.5"/>
<circle cx="335.00" cy="32.20" r="1.5"/>
<circle cx="335.00" cy="36.70" r="1.5"/>
<circle cx="335.00" cy="93.30" r="1.5"/>
<circle cx="335.00" cy="98.30" r="1.5"/>
<circle cx="335.00" cy="108.90" r="1.5"/>
<line x1="351.60" y1="31.10" x2="351.60" y2="86.80" stroke="#1b6fb3" stroke-width="2.5" stroke-linecap="round"/>
<circle cx="351.60" cy="30.50" r="1.5"/>
<circle cx="351.60" cy="32.55" r="1.5"/>
<circle cx="351.60" cy="34.75" r="1.5"/>
<circle cx="351.60" cy="36.12" r="1.5"/>
<circle cx="351.60" cy="37.65" r="1.5"/>
<circle cx="351.60" cy="39.32" r="1.5"/>
<circle cx="351.60" cy="41.15" r="1.5"/>
<circle cx="351.60" cy="43.12" r="1.5"/>
<circle cx="351.60" cy="45.25" r="1.5"/>
<circle cx="351.60" cy="46.55" r="1.5"/>
<circle cx="351.60" cy="48.00" r="1.5"/>
<circle cx="351.60" cy="49.60" r="1.5"/>
<circle cx="351.60" cy="51.35" r="1.5"/>
<circle cx="351.60" cy="53.25" r="1.5"/>
<circle cx="351.60" cy="55.30" r="1.5"/>
<circle cx="351.60" cy="57.50" r="1.5"/>
<circle cx="351.60" cy="58.88" r="1.5"/>
<circle cx="351.60" cy="60.40" r="1.5"/>
<circle cx="351.60" cy="62.07" r="1.5"/>
<circle cx="351.60" cy="63.90" r="1.5"/>
<circle cx="351.60" cy="65.88" r="1.5"/>
<circle cx="351.60" cy="68.00" r="1.5"/>
<circle cx="351.60" cy="69.30" r="1.5"/>
<circle cx="351.60" cy="70.75" r="1.5"/>
<circle cx="351.60" cy="72.35" r="1.5"/>
<circle cx="351.60" cy="74.10" r="1.5"/>
<circle cx="351.60" cy="76.00" r="1.5"/>
<circle cx="351.60" cy="78.05" r="1.5"/>
<circle cx="351.60" cy="80.25" r="1.5"/>
<circle cx="351.60" cy="81.62" r="1.5"/>
<circle cx="351.60" cy="83.15" r="1.5"/>
<circle cx="351.60" cy="84.83" r="1.5"/>
<circle cx="351.60" cy="86.65" r="1.5"/>
<circle cx="351.60" cy="87.40" r="1.5"/>
<circle cx="351.60" cy="12.40" r="1.5"/>
<circle cx="351.60" cy="16.90" r="1.5"/>
<circle cx="351.60" cy="19.70" r="1.5"/>
<circle cx="351.60" cy="22.00" r="1.5"/>
<circle cx="351.60" cy="24.60" r="1.5"/>
<circle cx="351.60" cy="26.90" r="1.5"/>
<circle cx="351.60" cy="28.50" r="1.5"/>
<circle cx="351.60" cy="93.30" r="1.5"/>
<circle cx="351.60" cy="108.90" r="1.5"/>
<polyline points="218.80,83.90 235.40,84.80 252.00,86.20 268.60,83.00 285.20,74.60 301.80,70.30 318.40,67.90 335.00,67.20 351.60,61.10" fill="none" stroke="#ff0000" stroke-width="1.8" stroke-linejoin="round"/>
<rect x="212.00" y="5.30" width="146.40" height="108.00" fill="none" stroke="#9a9a9a" stroke-width="1.1"/>
<line x1="210.40" y1="109.30" x2="212.00" y2="109.30" stroke="#444" stroke-width="0.5"/>
<text x="209.50" y="111.20" class="tk" text-anchor="end">0</text>
<line x1="210.40" y1="94.61" x2="212.00" y2="94.61" stroke="#444" stroke-width="0.5"/>
<text x="209.50" y="96.51" class="tk" text-anchor="end">500</text>
<line x1="210.40" y1="79.92" x2="212.00" y2="79.92" stroke="#444" stroke-width="0.5"/>
<text x="209.50" y="81.82" class="tk" text-anchor="end">1000</text>
<line x1="210.40" y1="65.23" x2="212.00" y2="65.23" stroke="#444" stroke-width="0.5"/>
<text x="209.50" y="67.13" class="tk" text-anchor="end">1500</text>
<line x1="210.40" y1="50.54" x2="212.00" y2="50.54" stroke="#444" stroke-width="0.5"/>
<text x="209.50" y="52.44" class="tk" text-anchor="end">2000</text>
<line x1="210.40" y1="35.85" x2="212.00" y2="35.85" stroke="#444" stroke-width="0.5"/>
<text x="209.50" y="37.75" class="tk" text-anchor="end">2500</text>
<line x1="210.40" y1="21.16" x2="212.00" y2="21.16" stroke="#444" stroke-width="0.5"/>
<text x="209.50" y="23.06" class="tk" text-anchor="end">3000</text>
<line x1="210.40" y1="6.47" x2="212.00" y2="6.47" stroke="#444" stroke-width="0.5"/>
<text x="209.50" y="8.37" class="tk" text-anchor="end">3500</text>
<line x1="218.80" y1="113.30" x2="218.80" y2="114.90" stroke="#444" stroke-width="0.5"/>
<text transform="translate(218.80,120.65) scale(0.88,1)" class="tkx" text-anchor="middle">2013</text>
<line x1="235.40" y1="113.30" x2="235.40" y2="114.90" stroke="#444" stroke-width="0.5"/>
<text transform="translate(235.40,120.65) scale(0.88,1)" class="tkx" text-anchor="middle">2014</text>
<line x1="252.00" y1="113.30" x2="252.00" y2="114.90" stroke="#444" stroke-width="0.5"/>
<text transform="translate(252.00,120.65) scale(0.88,1)" class="tkx" text-anchor="middle">2015</text>
<line x1="268.60" y1="113.30" x2="268.60" y2="114.90" stroke="#444" stroke-width="0.5"/>
<text transform="translate(268.60,120.65) scale(0.88,1)" class="tkx" text-anchor="middle">2016</text>
<line x1="285.20" y1="113.30" x2="285.20" y2="114.90" stroke="#444" stroke-width="0.5"/>
<text transform="translate(285.20,120.65) scale(0.88,1)" class="tkx" text-anchor="middle">2017</text>
<line x1="301.80" y1="113.30" x2="301.80" y2="114.90" stroke="#444" stroke-width="0.5"/>
<text transform="translate(301.80,120.65) scale(0.88,1)" class="tkx" text-anchor="middle">2018</text>
<line x1="318.40" y1="113.30" x2="318.40" y2="114.90" stroke="#444" stroke-width="0.5"/>
<text transform="translate(318.40,120.65) scale(0.88,1)" class="tkx" text-anchor="middle">2019</text>
<line x1="335.00" y1="113.30" x2="335.00" y2="114.90" stroke="#444" stroke-width="0.5"/>
<text transform="translate(335.00,120.65) scale(0.88,1)" class="tkx" text-anchor="middle">2020</text>
<line x1="351.60" y1="113.30" x2="351.60" y2="114.90" stroke="#444" stroke-width="0.5"/>
<text transform="translate(351.60,120.65) scale(0.88,1)" class="tkx" text-anchor="middle">2021</text>
<text class="yl" transform="translate(194.50,55.60) rotate(-90)" text-anchor="middle">County light intensity (nW·cm<tspan baseline-shift="super" font-size="3.6">−2</tspan>·sr<tspan baseline-shift="super" font-size="3.6">−1</tspan>)</text>
<text class="xl" transform="translate(281.00,130.10) scale(0.95,1)" text-anchor="middle">Year</text>
<text class="cap" x="280.50" y="139.00" text-anchor="middle">(b)Cluster 2</text>
<line x1="406.80" y1="60.30" x2="406.80" y2="99.80" stroke="#1b6fb3" stroke-width="2.5" stroke-linecap="round"/>
<circle cx="406.80" cy="59.70" r="1.5"/>
<circle cx="406.80" cy="61.15" r="1.5"/>
<circle cx="406.80" cy="62.75" r="1.5"/>
<circle cx="406.80" cy="64.50" r="1.5"/>
<circle cx="406.80" cy="66.40" r="1.5"/>
<circle cx="406.80" cy="68.45" r="1.5"/>
<circle cx="406.80" cy="70.65" r="1.5"/>
<circle cx="406.80" cy="72.03" r="1.5"/>
<circle cx="406.80" cy="73.55" r="1.5"/>
<circle cx="406.80" cy="75.23" r="1.5"/>
<circle cx="406.80" cy="77.05" r="1.5"/>
<circle cx="406.80" cy="79.03" r="1.5"/>
<circle cx="406.80" cy="81.15" r="1.5"/>
<circle cx="406.80" cy="82.45" r="1.5"/>
<circle cx="406.80" cy="83.90" r="1.5"/>
<circle cx="406.80" cy="85.50" r="1.5"/>
<circle cx="406.80" cy="87.25" r="1.5"/>
<circle cx="406.80" cy="89.15" r="1.5"/>
<circle cx="406.80" cy="91.20" r="1.5"/>
<circle cx="406.80" cy="93.40" r="1.5"/>
<circle cx="406.80" cy="94.78" r="1.5"/>
<circle cx="406.80" cy="96.30" r="1.5"/>
<circle cx="406.80" cy="97.98" r="1.5"/>
<circle cx="406.80" cy="99.80" r="1.5"/>
<circle cx="406.80" cy="100.40" r="1.5"/>
<circle cx="406.80" cy="46.60" r="1.5"/>
<circle cx="406.80" cy="56.20" r="1.5"/>
<circle cx="406.80" cy="103.60" r="1.5"/>
<circle cx="406.80" cy="105.00" r="1.5"/>
<line x1="423.45" y1="66.90" x2="423.45" y2="97.70" stroke="#1b6fb3" stroke-width="2.5" stroke-linecap="round"/>
<circle cx="423.45" cy="66.30" r="1.5"/>
<circle cx="423.45" cy="67.83" r="1.5"/>
<circle cx="423.45" cy="69.50" r="1.5"/>
<circle cx="423.45" cy="71.33" r="1.5"/>
<circle cx="423.45" cy="73.30" r="1.5"/>
<circle cx="423.45" cy="75.42" r="1.5"/>
<circle cx="423.45" cy="76.72" r="1.5"/>
<circle cx="423.45" cy="78.17" r="1.5"/>
<circle cx="423.45" cy="79.77" r="1.5"/>
<circle cx="423.45" cy="81.52" r="1.5"/>
<circle cx="423.45" cy="83.42" r="1.5"/>
<circle cx="423.45" cy="85.47" r="1.5"/>
<circle cx="423.45" cy="87.67" r="1.5"/>
<circle cx="423.45" cy="89.05" r="1.5"/>
<circle cx="423.45" cy="90.58" r="1.5"/>
<circle cx="423.45" cy="92.25" r="1.5"/>
<circle cx="423.45" cy="94.08" r="1.5"/>
<circle cx="423.45" cy="96.05" r="1.5"/>
<circle cx="423.45" cy="98.17" r="1.5"/>
<circle cx="423.45" cy="98.30" r="1.5"/>
<circle cx="423.45" cy="55.50" r="1.5"/>
<circle cx="423.45" cy="59.00" r="1.5"/>
<circle cx="423.45" cy="60.40" r="1.5"/>
<circle cx="423.45" cy="101.50" r="1.5"/>
<circle cx="423.45" cy="103.20" r="1.5"/>
<circle cx="423.45" cy="104.90" r="1.5"/>
<line x1="440.10" y1="63.80" x2="440.10" y2="100.50" stroke="#1b6fb3" stroke-width="2.5" stroke-linecap="round"/>
<circle cx="440.10" cy="63.20" r="1.5"/>
<circle cx="440.10" cy="64.80" r="1.5"/>
<circle cx="440.10" cy="66.55" r="1.5"/>
<circle cx="440.10" cy="68.45" r="1.5"/>
<circle cx="440.10" cy="70.50" r="1.5"/>
<circle cx="440.10" cy="72.70" r="1.5"/>
<circle cx="440.10" cy="74.08" r="1.5"/>
<circle cx="440.10" cy="75.60" r="1.5"/>
<circle cx="440.10" cy="77.28" r="1.5"/>
<circle cx="440.10" cy="79.10" r="1.5"/>
<circle cx="440.10" cy="81.08" r="1.5"/>
<circle cx="440.10" cy="83.20" r="1.5"/>
<circle cx="440.10" cy="84.50" r="1.5"/>
<circle cx="440.10" cy="85.95" r="1.5"/>
<circle cx="440.10" cy="87.55" r="1.5"/>
<circle cx="440.10" cy="89.30" r="1.5"/>
<circle cx="440.10" cy="91.20" r="1.5"/>
<circle cx="440.10" cy="93.25" r="1.5"/>
<circle cx="440.10" cy="95.45" r="1.5"/>
<circle cx="440.10" cy="96.83" r="1.5"/>
<circle cx="440.10" cy="98.35" r="1.5"/>
<circle cx="440.10" cy="100.03" r="1.5"/>
<circle cx="440.10" cy="101.10" r="1.5"/>
<circle cx="440.10" cy="51.20" r="1.5"/>
<circle cx="440.10" cy="60.40" r="1.5"/>
<circle cx="440.10" cy="104.60" r="1.5"/>
<circle cx="440.10" cy="108.60" r="1.5"/>
<line x1="456.75" y1="59.90" x2="456.75" y2="97.00" stroke="#1b6fb3" stroke-width="2.5" stroke-linecap="round"/>
<circle cx="456.75" cy="59.30" r="1.5"/>
<circle cx="456.75" cy="60.97" r="1.5"/>
<circle cx="456.75" cy="62.80" r="1.5"/>
<circle cx="456.75" cy="64.77" r="1.5"/>
<circle cx="456.75" cy="66.90" r="1.5"/>
<circle cx="456.75" cy="68.20" r="1.5"/>
<circle cx="456.75" cy="69.65" r="1.5"/>
<circle cx="456.75" cy="71.25" r="1.5"/>
<circle cx="456.75" cy="73.00" r="1.5"/>
<circle cx="456.75" cy="74.90" r="1.5"/>
<circle cx="456.75" cy="76.95" r="1.5"/>
<circle cx="456.75" cy="79.15" r="1.5"/>
<circle cx="456.75" cy="80.52" r="1.5"/>
<circle cx="456.75" cy="82.05" r="1.5"/>
<circle cx="456.75" cy="83.72" r="1.5"/>
<circle cx="456.75" cy="85.55" r="1.5"/>
<circle cx="456.75" cy="87.52" r="1.5"/>
<circle cx="456.75" cy="89.65" r="1.5"/>
<circle cx="456.75" cy="90.95" r="1.5"/>
<circle cx="456.75" cy="92.40" r="1.5"/>
<circle cx="456.75" cy="94.00" r="1.5"/>
<circle cx="456.75" cy="95.75" r="1.5"/>
<circle cx="456.75" cy="97.60" r="1.5"/>
<circle cx="456.75" cy="50.80" r="1.5"/>
<circle cx="456.75" cy="105.30" r="1.5"/>
<line x1="473.40" y1="57.40" x2="473.40" y2="92.40" stroke="#1b6fb3" stroke-width="2.5" stroke-linecap="round"/>
<circle cx="473.40" cy="56.80" r="1.5"/>
<circle cx="473.40" cy="58.55" r="1.5"/>
<circle cx="473.40" cy="60.45" r="1.5"/>
<circle cx="473.40" cy="62.50" r="1.5"/>
<circle cx="473.40" cy="64.70" r="1.5"/>
<circle cx="473.40" cy="66.07" r="1.5"/>
<circle cx="473.40" cy="67.60" r="1.5"/>
<circle cx="473.40" cy="69.27" r="1.5"/>
<circle cx="473.40" cy="71.10" r="1.5"/>
<circle cx="473.40" cy="73.07" r="1.5"/>
<circle cx="473.40" cy="75.20" r="1.5"/>
<circle cx="473.40" cy="76.50" r="1.5"/>
<circle cx="473.40" cy="77.95" r="1.5"/>
<circle cx="473.40" cy="79.55" r="1.5"/>
<circle cx="473.40" cy="81.30" r="1.5"/>
<circle cx="473.40" cy="83.20" r="1.5"/>
<circle cx="473.40" cy="85.25" r="1.5"/>
<circle cx="473.40" cy="87.45" r="1.5"/>
<circle cx="473.40" cy="88.82" r="1.5"/>
<circle cx="473.40" cy="90.35" r="1.5"/>
<circle cx="473.40" cy="92.02" r="1.5"/>
<circle cx="473.40" cy="93.00" r="1.5"/>
<circle cx="473.40" cy="44.90" r="1.5"/>
<circle cx="473.40" cy="47.70" r="1.5"/>
<circle cx="473.40" cy="49.10" r="1.5"/>
<circle cx="473.40" cy="97.30" r="1.5"/>
<circle cx="473.40" cy="108.40" r="1.5"/>
<line x1="490.05" y1="49.70" x2="490.05" y2="87.40" stroke="#1b6fb3" stroke-width="2.5" stroke-linecap="round"/>
<circle cx="490.05" cy="49.10" r="1.5"/>
<circle cx="490.05" cy="50.93" r="1.5"/>
<circle cx="490.05" cy="52.90" r="1.5"/>
<circle cx="490.05" cy="55.03" r="1.5"/>
<circle cx="490.05" cy="56.33" r="1.5"/>
<circle cx="490.05" cy="57.78" r="1.5"/>
<circle cx="490.05" cy="59.38" r="1.5"/>
<circle cx="490.05" cy="61.13" r="1.5"/>
<circle cx="490.05" cy="63.03" r="1.5"/>
<circle cx="490.05" cy="65.08" r="1.5"/>
<circle cx="490.05" cy="67.28" r="1.5"/>
<circle cx="490.05" cy="68.65" r="1.5"/>
<circle cx="490.05" cy="70.18" r="1.5"/>
<circle cx="490.05" cy="71.85" r="1.5"/>
<circle cx="490.05" cy="73.68" r="1.5"/>
<circle cx="490.05" cy="75.65" r="1.5"/>
<circle cx="490.05" cy="77.78" r="1.5"/>
<circle cx="490.05" cy="79.08" r="1.5"/>
<circle cx="490.05" cy="80.53" r="1.5"/>
<circle cx="490.05" cy="82.12" r="1.5"/>
<circle cx="490.05" cy="83.88" r="1.5"/>
<circle cx="490.05" cy="85.78" r="1.5"/>
<circle cx="490.05" cy="87.83" r="1.5"/>
<circle cx="490.05" cy="88.00" r="1.5"/>
<circle cx="490.05" cy="36.40" r="1.5"/>
<circle cx="490.05" cy="37.80" r="1.5"/>
<circle cx="490.05" cy="42.00" r="1.5"/>
<circle cx="490.05" cy="108.40" r="1.5"/>
<line x1="506.70" y1="34.10" x2="506.70" y2="82.60" stroke="#1b6fb3" stroke-width="2.5" stroke-linecap="round"/>
<circle cx="506.70" cy="33.50" r="1.5"/>
<circle cx="506.70" cy="35.40" r="1.5"/>
<circle cx="506.70" cy="37.45" r="1.5"/>
<circle cx="506.70" cy="39.65" r="1.5"/>
<circle cx="506.70" cy="41.02" r="1.5"/>
<circle cx="506.70" cy="42.55" r="1.5"/>
<circle cx="506.70" cy="44.22" r="1.5"/>
<circle cx="506.70" cy="46.05" r="1.5"/>
<circle cx="506.70" cy="48.02" r="1.5"/>
<circle cx="506.70" cy="50.15" r="1.5"/>
<circle cx="506.70" cy="51.45" r="1.5"/>
<circle cx="506.70" cy="52.90" r="1.5"/>
<circle cx="506.70" cy="54.50" r="1.5"/>
<circle cx="506.70" cy="56.25" r="1.5"/>
<circle cx="506.70" cy="58.15" r="1.5"/>
<circle cx="506.70" cy="60.20" r="1.5"/>
<circle cx="506.70" cy="62.40" r="1.5"/>
<circle cx="506.70" cy="63.77" r="1.5"/>
<circle cx="506.70" cy="65.30" r="1.5"/>
<circle cx="506.70" cy="66.97" r="1.5"/>
<circle cx="506.70" cy="68.80" r="1.5"/>
<circle cx="506.70" cy="70.77" r="1.5"/>
<circle cx="506.70" cy="72.90" r="1.5"/>
<circle cx="506.70" cy="74.20" r="1.5"/>
<circle cx="506.70" cy="75.65" r="1.5"/>
<circle cx="506.70" cy="77.25" r="1.5"/>
<circle cx="506.70" cy="79.00" r="1.5"/>
<circle cx="506.70" cy="80.90" r="1.5"/>
<circle cx="506.70" cy="82.95" r="1.5"/>
<circle cx="506.70" cy="83.20" r="1.5"/>
<circle cx="506.70" cy="21.10" r="1.5"/>
<line x1="523.35" y1="35.60" x2="523.35" y2="81.70" stroke="#1b6fb3" stroke-width="2.5" stroke-linecap="round"/>
<circle cx="523.35" cy="35.00" r="1.5"/>
<circle cx="523.35" cy="36.98" r="1.5"/>
<circle cx="523.35" cy="39.10" r="1.5"/>
<circle cx="523.35" cy="40.40" r="1.5"/>
<circle cx="523.35" cy="41.85" r="1.5"/>
<circle cx="523.35" cy="43.45" r="1.5"/>
<circle cx="523.35" cy="45.20" r="1.5"/>
<circle cx="523.35" cy="47.10" r="1.5"/>
<circle cx="523.35" cy="49.15" r="1.5"/>
<circle cx="523.35" cy="51.35" r="1.5"/>
<circle cx="523.35" cy="52.73" r="1.5"/>
<circle cx="523.35" cy="54.25" r="1.5"/>
<circle cx="523.35" cy="55.92" r="1.5"/>
<circle cx="523.35" cy="57.75" r="1.5"/>
<circle cx="523.35" cy="59.73" r="1.5"/>
<circle cx="523.35" cy="61.85" r="1.5"/>
<circle cx="523.35" cy="63.15" r="1.5"/>
<circle cx="523.35" cy="64.60" r="1.5"/>
<circle cx="523.35" cy="66.20" r="1.5"/>
<circle cx="523.35" cy="67.95" r="1.5"/>
<circle cx="523.35" cy="69.85" r="1.5"/>
<circle cx="523.35" cy="71.90" r="1.5"/>
<circle cx="523.35" cy="74.10" r="1.5"/>
<circle cx="523.35" cy="75.47" r="1.5"/>
<circle cx="523.35" cy="77.00" r="1.5"/>
<circle cx="523.35" cy="78.67" r="1.5"/>
<circle cx="523.35" cy="80.50" r="1.5"/>
<circle cx="523.35" cy="82.30" r="1.5"/>
<circle cx="523.35" cy="27.70" r="1.5"/>
<circle cx="523.35" cy="33.10" r="1.5"/>
<circle cx="523.35" cy="34.50" r="1.5"/>
<circle cx="523.35" cy="90.10" r="1.5"/>
<line x1="540.00" y1="25.20" x2="540.00" y2="81.70" stroke="#1b6fb3" stroke-width="2.5" stroke-linecap="round"/>
<circle cx="540.00" cy="24.60" r="1.5"/>
<circle cx="540.00" cy="26.65" r="1.5"/>
<circle cx="540.00" cy="28.85" r="1.5"/>
<circle cx="540.00" cy="30.23" r="1.5"/>
<circle cx="540.00" cy="31.75" r="1.5"/>
<circle cx="540.00" cy="33.42" r="1.5"/>
<circle cx="540.00" cy="35.25" r="1.5"/>
<circle cx="540.00" cy="37.23" r="1.5"/>
<circle cx="540.00" cy="39.35" r="1.5"/>
<circle cx="540.00" cy="40.65" r="1.5"/>
<circle cx="540.00" cy="42.10" r="1.5"/>
<circle cx="540.00" cy="43.70" r="1.5"/>
<circle cx="540.00" cy="45.45" r="1.5"/>
<circle cx="540.00" cy="47.35" r="1.5"/>
<circle cx="540.00" cy="49.40" r="1.5"/>
<circle cx="540.00" cy="51.60" r="1.5"/>
<circle cx="540.00" cy="52.98" r="1.5"/>
<circle cx="540.00" cy="54.50" r="1.5"/>
<circle cx="540.00" cy="56.17" r="1.5"/>
<circle cx="540.00" cy="58.00" r="1.5"/>
<circle cx="540.00" cy="59.98" r="1.5"/>
<circle cx="540.00" cy="62.10" r="1.5"/>
<circle cx="540.00" cy="63.40" r="1.5"/>
<circle cx="540.00" cy="64.85" r="1.5"/>
<circle cx="540.00" cy="66.45" r="1.5"/>
<circle cx="540.00" cy="68.20" r="1.5"/>
<circle cx="540.00" cy="70.10" r="1.5"/>
<circle cx="540.00" cy="72.15" r="1.5"/>
<circle cx="540.00" cy="74.35" r="1.5"/>
<circle cx="540.00" cy="75.72" r="1.5"/>
<circle cx="540.00" cy="77.25" r="1.5"/>
<circle cx="540.00" cy="78.92" r="1.5"/>
<circle cx="540.00" cy="80.75" r="1.5"/>
<circle cx="540.00" cy="82.30" r="1.5"/>
<circle cx="540.00" cy="9.20" r="1.5"/>
<circle cx="540.00" cy="12.70" r="1.5"/>
<circle cx="540.00" cy="18.00" r="1.5"/>
<circle cx="540.00" cy="19.70" r="1.5"/>
<circle cx="540.00" cy="21.80" r="1.5"/>
<polyline points="406.80,83.00 423.45,83.90 440.10,83.50 456.75,80.60 473.40,73.50 490.05,67.70 506.70,63.90 523.35,61.80 540.00,54.70" fill="none" stroke="#ff0000" stroke-width="1.8" stroke-linejoin="round"/>
<rect x="400.30" y="4.50" width="146.50" height="108.40" fill="none" stroke="#9a9a9a" stroke-width="1.1"/>
<line x1="398.70" y1="108.70" x2="400.30" y2="108.70" stroke="#444" stroke-width="0.5"/>
<text x="396.70" y="110.60" class="tk" text-anchor="end">0</text>
<line x1="398.70" y1="93.70" x2="400.30" y2="93.70" stroke="#444" stroke-width="0.5"/>
<text x="396.70" y="95.60" class="tk" text-anchor="end">1000</text>
<line x1="398.70" y1="78.70" x2="400.30" y2="78.70" stroke="#444" stroke-width="0.5"/>
<text x="396.70" y="80.60" class="tk" text-anchor="end">2000</text>
<line x1="398.70" y1="63.70" x2="400.30" y2="63.70" stroke="#444" stroke-width="0.5"/>
<text x="396.70" y="65.60" class="tk" text-anchor="end">3000</text>
<line x1="398.70" y1="48.70" x2="400.30" y2="48.70" stroke="#444" stroke-width="0.5"/>
<text x="396.70" y="50.60" class="tk" text-anchor="end">4000</text>
<line x1="398.70" y1="33.70" x2="400.30" y2="33.70" stroke="#444" stroke-width="0.5"/>
<text x="396.70" y="35.60" class="tk" text-anchor="end">5000</text>
<line x1="398.70" y1="18.70" x2="400.30" y2="18.70" stroke="#444" stroke-width="0.5"/>
<text x="396.70" y="20.60" class="tk" text-anchor="end">6000</text>
<line x1="406.80" y1="112.90" x2="406.80" y2="114.50" stroke="#444" stroke-width="0.5"/>
<text transform="translate(406.80,120.25) scale(0.88,1)" class="tkx" text-anchor="middle">2013</text>
<line x1="423.45" y1="112.90" x2="423.45" y2="114.50" stroke="#444" stroke-width="0.5"/>
<text transform="translate(423.45,120.25) scale(0.88,1)" class="tkx" text-anchor="middle">2014</text>
<line x1="440.10" y1="112.90" x2="440.10" y2="114.50" stroke="#444" stroke-width="0.5"/>
<text transform="translate(440.10,120.25) scale(0.88,1)" class="tkx" text-anchor="middle">2015</text>
<line x1="456.75" y1="112.90" x2="456.75" y2="114.50" stroke="#444" stroke-width="0.5"/>
<text transform="translate(456.75,120.25) scale(0.88,1)" class="tkx" text-anchor="middle">2016</text>
<line x1="473.40" y1="112.90" x2="473.40" y2="114.50" stroke="#444" stroke-width="0.5"/>
<text transform="translate(473.40,120.25) scale(0.88,1)" class="tkx" text-anchor="middle">2017</text>
<line x1="490.05" y1="112.90" x2="490.05" y2="114.50" stroke="#444" stroke-width="0.5"/>
<text transform="translate(490.05,120.25) scale(0.88,1)" class="tkx" text-anchor="middle">2018</text>
<line x1="506.70" y1="112.90" x2="506.70" y2="114.50" stroke="#444" stroke-width="0.5"/>
<text transform="translate(506.70,120.25) scale(0.88,1)" class="tkx" text-anchor="middle">2019</text>
<line x1="523.35" y1="112.90" x2="523.35" y2="114.50" stroke="#444" stroke-width="0.5"/>
<text transform="translate(523.35,120.25) scale(0.88,1)" class="tkx" text-anchor="middle">2020</text>
<line x1="540.00" y1="112.90" x2="540.00" y2="114.50" stroke="#444" stroke-width="0.5"/>
<text transform="translate(540.00,120.25) scale(0.88,1)" class="tkx" text-anchor="middle">2021</text>
<text class="yl" transform="translate(383.10,55.50) rotate(-90)" text-anchor="middle">County light intensity (nW·cm<tspan baseline-shift="super" font-size="3.6">−2</tspan>·sr<tspan baseline-shift="super" font-size="3.6">−1</tspan>)</text>
<text class="xl" transform="translate(469.60,130.10) scale(0.95,1)" text-anchor="middle">Year</text>
<text class="cap" x="469.40" y="139.00" text-anchor="middle">(c)Cluster 3</text>
<line x1="124.60" y1="217.00" x2="124.60" y2="243.30" stroke="#1b6fb3" stroke-width="2.5" stroke-linecap="round"/>
<circle cx="124.60" cy="216.40" r="1.5"/>
<circle cx="124.60" cy="217.85" r="1.5"/>
<circle cx="124.60" cy="219.45" r="1.5"/>
<circle cx="124.60" cy="221.20" r="1.5"/>
<circle cx="124.60" cy="223.10" r="1.5"/>
<circle cx="124.60" cy="225.15" r="1.5"/>
<circle cx="124.60" cy="227.35" r="1.5"/>
<circle cx="124.60" cy="228.72" r="1.5"/>
<circle cx="124.60" cy="230.25" r="1.5"/>
<circle cx="124.60" cy="231.93" r="1.5"/>
<circle cx="124.60" cy="233.75" r="1.5"/>
<circle cx="124.60" cy="235.72" r="1.5"/>
<circle cx="124.60" cy="237.85" r="1.5"/>
<circle cx="124.60" cy="239.15" r="1.5"/>
<circle cx="124.60" cy="240.60" r="1.5"/>
<circle cx="124.60" cy="242.20" r="1.5"/>
<circle cx="124.60" cy="243.90" r="1.5"/>
<circle cx="124.60" cy="191.60" r="1.5"/>
<circle cx="124.60" cy="200.90" r="1.5"/>
<circle cx="124.60" cy="202.60" r="1.5"/>
<circle cx="124.60" cy="208.90" r="1.5"/>
<circle cx="124.60" cy="210.70" r="1.5"/>
<circle cx="124.60" cy="212.70" r="1.5"/>
<line x1="141.15" y1="217.60" x2="141.15" y2="237.70" stroke="#1b6fb3" stroke-width="2.5" stroke-linecap="round"/>
<circle cx="141.15" cy="217.00" r="1.5"/>
<circle cx="141.15" cy="218.53" r="1.5"/>
<circle cx="141.15" cy="220.20" r="1.5"/>
<circle cx="141.15" cy="222.03" r="1.5"/>
<circle cx="141.15" cy="224.00" r="1.5"/>
<circle cx="141.15" cy="226.12" r="1.5"/>
<circle cx="141.15" cy="227.43" r="1.5"/>
<circle cx="141.15" cy="228.88" r="1.5"/>
<circle cx="141.15" cy="230.47" r="1.5"/>
<circle cx="141.15" cy="232.22" r="1.5"/>
<circle cx="141.15" cy="234.12" r="1.5"/>
<circle cx="141.15" cy="236.18" r="1.5"/>
<circle cx="141.15" cy="238.30" r="1.5"/>
<circle cx="141.15" cy="204.70" r="1.5"/>
<circle cx="141.15" cy="206.10" r="1.5"/>
<circle cx="141.15" cy="207.80" r="1.5"/>
<circle cx="141.15" cy="209.60" r="1.5"/>
<circle cx="141.15" cy="211.30" r="1.5"/>
<circle cx="141.15" cy="241.80" r="1.5"/>
<circle cx="141.15" cy="249.30" r="1.5"/>
<line x1="157.70" y1="208.50" x2="157.70" y2="239.10" stroke="#1b6fb3" stroke-width="2.5" stroke-linecap="round"/>
<circle cx="157.70" cy="207.90" r="1.5"/>
<circle cx="157.70" cy="209.50" r="1.5"/>
<circle cx="157.70" cy="211.25" r="1.5"/>
<circle cx="157.70" cy="213.15" r="1.5"/>
<circle cx="157.70" cy="215.20" r="1.5"/>
<circle cx="157.70" cy="217.40" r="1.5"/>
<circle cx="157.70" cy="218.78" r="1.5"/>
<circle cx="157.70" cy="220.30" r="1.5"/>
<circle cx="157.70" cy="221.98" r="1.5"/>
<circle cx="157.70" cy="223.80" r="1.5"/>
<circle cx="157.70" cy="225.78" r="1.5"/>
<circle cx="157.70" cy="227.90" r="1.5"/>
<circle cx="157.70" cy="229.20" r="1.5"/>
<circle cx="157.70" cy="230.65" r="1.5"/>
<circle cx="157.70" cy="232.25" r="1.5"/>
<circle cx="157.70" cy="234.00" r="1.5"/>
<circle cx="157.70" cy="235.90" r="1.5"/>
<circle cx="157.70" cy="237.95" r="1.5"/>
<circle cx="157.70" cy="239.70" r="1.5"/>
<circle cx="157.70" cy="200.50" r="1.5"/>
<line x1="174.25" y1="203.90" x2="174.25" y2="236.70" stroke="#1b6fb3" stroke-width="2.5" stroke-linecap="round"/>
<circle cx="174.25" cy="203.30" r="1.5"/>
<circle cx="174.25" cy="204.98" r="1.5"/>
<circle cx="174.25" cy="206.80" r="1.5"/>
<circle cx="174.25" cy="208.78" r="1.5"/>
<circle cx="174.25" cy="210.90" r="1.5"/>
<circle cx="174.25" cy="212.20" r="1.5"/>
<circle cx="174.25" cy="213.65" r="1.5"/>
<circle cx="174.25" cy="215.25" r="1.5"/>
<circle cx="174.25" cy="217.00" r="1.5"/>
<circle cx="174.25" cy="218.90" r="1.5"/>
<circle cx="174.25" cy="220.95" r="1.5"/>
<circle cx="174.25" cy="223.15" r="1.5"/>
<circle cx="174.25" cy="224.53" r="1.5"/>
<circle cx="174.25" cy="226.05" r="1.5"/>
<circle cx="174.25" cy="227.73" r="1.5"/>
<circle cx="174.25" cy="229.55" r="1.5"/>
<circle cx="174.25" cy="231.53" r="1.5"/>
<circle cx="174.25" cy="233.65" r="1.5"/>
<circle cx="174.25" cy="234.95" r="1.5"/>
<circle cx="174.25" cy="236.40" r="1.5"/>
<circle cx="174.25" cy="237.30" r="1.5"/>
<circle cx="174.25" cy="188.00" r="1.5"/>
<circle cx="174.25" cy="197.60" r="1.5"/>
<line x1="190.80" y1="193.30" x2="190.80" y2="228.50" stroke="#1b6fb3" stroke-width="2.5" stroke-linecap="round"/>
<circle cx="190.80" cy="192.70" r="1.5"/>
<circle cx="190.80" cy="194.45" r="1.5"/>
<circle cx="190.80" cy="196.35" r="1.5"/>
<circle cx="190.80" cy="198.40" r="1.5"/>
<circle cx="190.80" cy="200.60" r="1.5"/>
<circle cx="190.80" cy="201.97" r="1.5"/>
<circle cx="190.80" cy="203.50" r="1.5"/>
<circle cx="190.80" cy="205.18" r="1.5"/>
<circle cx="190.80" cy="207.00" r="1.5"/>
<circle cx="190.80" cy="208.97" r="1.5"/>
<circle cx="190.80" cy="211.10" r="1.5"/>
<circle cx="190.80" cy="212.40" r="1.5"/>
<circle cx="190.80" cy="213.85" r="1.5"/>
<circle cx="190.80" cy="215.45" r="1.5"/>
<circle cx="190.80" cy="217.20" r="1.5"/>
<circle cx="190.80" cy="219.10" r="1.5"/>
<circle cx="190.80" cy="221.15" r="1.5"/>
<circle cx="190.80" cy="223.35" r="1.5"/>
<circle cx="190.80" cy="224.72" r="1.5"/>
<circle cx="190.80" cy="226.25" r="1.5"/>
<circle cx="190.80" cy="227.93" r="1.5"/>
<circle cx="190.80" cy="229.10" r="1.5"/>
<circle cx="190.80" cy="185.90" r="1.5"/>
<circle cx="190.80" cy="230.80" r="1.5"/>
<circle cx="190.80" cy="234.40" r="1.5"/>
<line x1="207.35" y1="184.10" x2="207.35" y2="225.00" stroke="#1b6fb3" stroke-width="2.5" stroke-linecap="round"/>
<circle cx="207.35" cy="183.50" r="1.5"/>
<circle cx="207.35" cy="185.32" r="1.5"/>
<circle cx="207.35" cy="187.30" r="1.5"/>
<circle cx="207.35" cy="189.42" r="1.5"/>
<circle cx="207.35" cy="190.72" r="1.5"/>
<circle cx="207.35" cy="192.17" r="1.5"/>
<circle cx="207.35" cy="193.77" r="1.5"/>
<circle cx="207.35" cy="195.52" r="1.5"/>
<circle cx="207.35" cy="197.42" r="1.5"/>
<circle cx="207.35" cy="199.47" r="1.5"/>
<circle cx="207.35" cy="201.67" r="1.5"/>
<circle cx="207.35" cy="203.05" r="1.5"/>
<circle cx="207.35" cy="204.57" r="1.5"/>
<circle cx="207.35" cy="206.25" r="1.5"/>
<circle cx="207.35" cy="208.07" r="1.5"/>
<circle cx="207.35" cy="210.05" r="1.5"/>
<circle cx="207.35" cy="212.17" r="1.5"/>
<circle cx="207.35" cy="213.47" r="1.5"/>
<circle cx="207.35" cy="214.92" r="1.5"/>
<circle cx="207.35" cy="216.52" r="1.5"/>
<circle cx="207.35" cy="218.27" r="1.5"/>
<circle cx="207.35" cy="220.17" r="1.5"/>
<circle cx="207.35" cy="222.22" r="1.5"/>
<circle cx="207.35" cy="224.42" r="1.5"/>
<circle cx="207.35" cy="225.60" r="1.5"/>
<circle cx="207.35" cy="158.40" r="1.5"/>
<circle cx="207.35" cy="234.70" r="1.5"/>
<line x1="223.90" y1="177.30" x2="223.90" y2="217.90" stroke="#1b6fb3" stroke-width="2.5" stroke-linecap="round"/>
<circle cx="223.90" cy="176.70" r="1.5"/>
<circle cx="223.90" cy="178.60" r="1.5"/>
<circle cx="223.90" cy="180.65" r="1.5"/>
<circle cx="223.90" cy="182.85" r="1.5"/>
<circle cx="223.90" cy="184.22" r="1.5"/>
<circle cx="223.90" cy="185.75" r="1.5"/>
<circle cx="223.90" cy="187.43" r="1.5"/>
<circle cx="223.90" cy="189.25" r="1.5"/>
<circle cx="223.90" cy="191.22" r="1.5"/>
<circle cx="223.90" cy="193.35" r="1.5"/>
<circle cx="223.90" cy="194.65" r="1.5"/>
<circle cx="223.90" cy="196.10" r="1.5"/>
<circle cx="223.90" cy="197.70" r="1.5"/>
<circle cx="223.90" cy="199.45" r="1.5"/>
<circle cx="223.90" cy="201.35" r="1.5"/>
<circle cx="223.90" cy="203.40" r="1.5"/>
<circle cx="223.90" cy="205.60" r="1.5"/>
<circle cx="223.90" cy="206.97" r="1.5"/>
<circle cx="223.90" cy="208.50" r="1.5"/>
<circle cx="223.90" cy="210.18" r="1.5"/>
<circle cx="223.90" cy="212.00" r="1.5"/>
<circle cx="223.90" cy="213.97" r="1.5"/>
<circle cx="223.90" cy="216.10" r="1.5"/>
<circle cx="223.90" cy="217.40" r="1.5"/>
<circle cx="223.90" cy="218.50" r="1.5"/>
<circle cx="223.90" cy="163.70" r="1.5"/>
<circle cx="223.90" cy="236.80" r="1.5"/>
<line x1="240.45" y1="185.90" x2="240.45" y2="216.10" stroke="#1b6fb3" stroke-width="2.5" stroke-linecap="round"/>
<circle cx="240.45" cy="185.30" r="1.5"/>
<circle cx="240.45" cy="187.28" r="1.5"/>
<circle cx="240.45" cy="189.40" r="1.5"/>
<circle cx="240.45" cy="190.70" r="1.5"/>
<circle cx="240.45" cy="192.15" r="1.5"/>
<circle cx="240.45" cy="193.75" r="1.5"/>
<circle cx="240.45" cy="195.50" r="1.5"/>
<circle cx="240.45" cy="197.40" r="1.5"/>
<circle cx="240.45" cy="199.45" r="1.5"/>
<circle cx="240.45" cy="201.65" r="1.5"/>
<circle cx="240.45" cy="203.03" r="1.5"/>
<circle cx="240.45" cy="204.55" r="1.5"/>
<circle cx="240.45" cy="206.23" r="1.5"/>
<circle cx="240.45" cy="208.05" r="1.5"/>
<circle cx="240.45" cy="210.03" r="1.5"/>
<circle cx="240.45" cy="212.15" r="1.5"/>
<circle cx="240.45" cy="213.45" r="1.5"/>
<circle cx="240.45" cy="214.90" r="1.5"/>
<circle cx="240.45" cy="216.50" r="1.5"/>
<circle cx="240.45" cy="216.70" r="1.5"/>
<circle cx="240.45" cy="159.10" r="1.5"/>
<circle cx="240.45" cy="161.20" r="1.5"/>
<circle cx="240.45" cy="170.50" r="1.5"/>
<circle cx="240.45" cy="175.50" r="1.5"/>
<circle cx="240.45" cy="177.30" r="1.5"/>
<line x1="257.00" y1="173.60" x2="257.00" y2="209.70" stroke="#1b6fb3" stroke-width="2.5" stroke-linecap="round"/>
<circle cx="257.00" cy="173.00" r="1.5"/>
<circle cx="257.00" cy="175.05" r="1.5"/>
<circle cx="257.00" cy="177.25" r="1.5"/>
<circle cx="257.00" cy="178.62" r="1.5"/>
<circle cx="257.00" cy="180.15" r="1.5"/>
<circle cx="257.00" cy="181.83" r="1.5"/>
<circle cx="257.00" cy="183.65" r="1.5"/>
<circle cx="257.00" cy="185.62" r="1.5"/>
<circle cx="257.00" cy="187.75" r="1.5"/>
<circle cx="257.00" cy="189.05" r="1.5"/>
<circle cx="257.00" cy="190.50" r="1.5"/>
<circle cx="257.00" cy="192.10" r="1.5"/>
<circle cx="257.00" cy="193.85" r="1.5"/>
<circle cx="257.00" cy="195.75" r="1.5"/>
<circle cx="257.00" cy="197.80" r="1.5"/>
<circle cx="257.00" cy="200.00" r="1.5"/>
<circle cx="257.00" cy="201.38" r="1.5"/>
<circle cx="257.00" cy="202.90" r="1.5"/>
<circle cx="257.00" cy="204.58" r="1.5"/>
<circle cx="257.00" cy="206.40" r="1.5"/>
<circle cx="257.00" cy="208.38" r="1.5"/>
<circle cx="257.00" cy="210.30" r="1.5"/>
<circle cx="257.00" cy="150.40" r="1.5"/>
<circle cx="257.00" cy="158.40" r="1.5"/>
<circle cx="257.00" cy="160.20" r="1.5"/>
<circle cx="257.00" cy="161.90" r="1.5"/>
<circle cx="257.00" cy="167.50" r="1.5"/>
<circle cx="257.00" cy="217.50" r="1.5"/>
<polyline points="124.60,225.60 141.15,225.60 157.70,225.20 174.25,220.70 190.80,213.40 207.35,204.90 223.90,200.60 240.45,197.40 257.00,189.80" fill="none" stroke="#ff0000" stroke-width="1.8" stroke-linejoin="round"/>
<rect x="117.90" y="145.50" width="145.50" height="108.40" fill="none" stroke="#9a9a9a" stroke-width="1.1"/>
<line x1="116.30" y1="249.00" x2="117.90" y2="249.00" stroke="#444" stroke-width="0.5"/>
<text x="115.60" y="250.90" class="tk" text-anchor="end">0</text>
<line x1="116.30" y1="232.93" x2="117.90" y2="232.93" stroke="#444" stroke-width="0.5"/>
<text x="115.60" y="234.83" class="tk" text-anchor="end">2000</text>
<line x1="116.30" y1="216.86" x2="117.90" y2="216.86" stroke="#444" stroke-width="0.5"/>
<text x="115.60" y="218.76" class="tk" text-anchor="end">4000</text>
<line x1="116.30" y1="200.79" x2="117.90" y2="200.79" stroke="#444" stroke-width="0.5"/>
<text x="115.60" y="202.69" class="tk" text-anchor="end">6000</text>
<line x1="116.30" y1="184.72" x2="117.90" y2="184.72" stroke="#444" stroke-width="0.5"/>
<text x="115.60" y="186.62" class="tk" text-anchor="end">8000</text>
<line x1="116.30" y1="168.65" x2="117.90" y2="168.65" stroke="#444" stroke-width="0.5"/>
<text x="115.60" y="170.55" class="tk" text-anchor="end">10,000</text>
<line x1="116.30" y1="152.58" x2="117.90" y2="152.58" stroke="#444" stroke-width="0.5"/>
<text x="115.60" y="154.48" class="tk" text-anchor="end">12,000</text>
<line x1="124.60" y1="253.90" x2="124.60" y2="255.50" stroke="#444" stroke-width="0.5"/>
<text transform="translate(124.60,261.25) scale(0.88,1)" class="tkx" text-anchor="middle">2013</text>
<line x1="141.15" y1="253.90" x2="141.15" y2="255.50" stroke="#444" stroke-width="0.5"/>
<text transform="translate(141.15,261.25) scale(0.88,1)" class="tkx" text-anchor="middle">2014</text>
<line x1="157.70" y1="253.90" x2="157.70" y2="255.50" stroke="#444" stroke-width="0.5"/>
<text transform="translate(157.70,261.25) scale(0.88,1)" class="tkx" text-anchor="middle">2015</text>
<line x1="174.25" y1="253.90" x2="174.25" y2="255.50" stroke="#444" stroke-width="0.5"/>
<text transform="translate(174.25,261.25) scale(0.88,1)" class="tkx" text-anchor="middle">2016</text>
<line x1="190.80" y1="253.90" x2="190.80" y2="255.50" stroke="#444" stroke-width="0.5"/>
<text transform="translate(190.80,261.25) scale(0.88,1)" class="tkx" text-anchor="middle">2017</text>
<line x1="207.35" y1="253.90" x2="207.35" y2="255.50" stroke="#444" stroke-width="0.5"/>
<text transform="translate(207.35,261.25) scale(0.88,1)" class="tkx" text-anchor="middle">2018</text>
<line x1="223.90" y1="253.90" x2="223.90" y2="255.50" stroke="#444" stroke-width="0.5"/>
<text transform="translate(223.90,261.25) scale(0.88,1)" class="tkx" text-anchor="middle">2019</text>
<line x1="240.45" y1="253.90" x2="240.45" y2="255.50" stroke="#444" stroke-width="0.5"/>
<text transform="translate(240.45,261.25) scale(0.88,1)" class="tkx" text-anchor="middle">2020</text>
<line x1="257.00" y1="253.90" x2="257.00" y2="255.50" stroke="#444" stroke-width="0.5"/>
<text transform="translate(257.00,261.25) scale(0.88,1)" class="tkx" text-anchor="middle">2021</text>
<text class="yl" transform="translate(98.10,199.50) rotate(-90)" text-anchor="middle">County light intensity (nW·cm<tspan baseline-shift="super" font-size="3.6">−2</tspan>·sr<tspan baseline-shift="super" font-size="3.6">−1</tspan>)</text>
<text class="xl" transform="translate(188.20,270.60) scale(0.95,1)" text-anchor="middle">Year</text>
<text class="cap" x="188.40" y="279.70" text-anchor="middle">(d)Cluster 4</text>
<circle cx="318.20" cy="185.20" r="1.5"/>
<circle cx="318.20" cy="205.70" r="1.5"/>
<circle cx="318.20" cy="218.90" r="1.5"/>
<circle cx="318.20" cy="225.20" r="1.5"/>
<circle cx="318.20" cy="228.70" r="1.5"/>
<circle cx="318.20" cy="233.10" r="1.5"/>
<circle cx="318.20" cy="239.70" r="1.5"/>
<circle cx="318.20" cy="249.10" r="1.5"/>
<circle cx="334.75" cy="181.80" r="1.5"/>
<circle cx="334.75" cy="199.50" r="1.5"/>
<circle cx="334.75" cy="213.60" r="1.5"/>
<circle cx="334.75" cy="217.80" r="1.5"/>
<circle cx="334.75" cy="220.40" r="1.5"/>
<circle cx="334.75" cy="229.10" r="1.5"/>
<circle cx="334.75" cy="233.10" r="1.5"/>
<circle cx="334.75" cy="235.90" r="1.5"/>
<circle cx="334.75" cy="243.50" r="1.5"/>
<circle cx="351.30" cy="189.60" r="1.5"/>
<circle cx="351.30" cy="207.90" r="1.5"/>
<circle cx="351.30" cy="212.40" r="1.5"/>
<circle cx="351.30" cy="213.90" r="1.5"/>
<circle cx="351.30" cy="215.60" r="1.5"/>
<circle cx="351.30" cy="223.70" r="1.5"/>
<circle cx="351.30" cy="225.20" r="1.5"/>
<circle cx="351.30" cy="228.00" r="1.5"/>
<circle cx="351.30" cy="235.90" r="1.5"/>
<circle cx="367.85" cy="184.90" r="1.5"/>
<circle cx="367.85" cy="193.10" r="1.5"/>
<circle cx="367.85" cy="206.10" r="1.5"/>
<circle cx="367.85" cy="213.10" r="1.5"/>
<circle cx="367.85" cy="221.30" r="1.5"/>
<circle cx="367.85" cy="230.20" r="1.5"/>
<circle cx="367.85" cy="233.80" r="1.5"/>
<circle cx="384.40" cy="177.10" r="1.5"/>
<circle cx="384.40" cy="198.80" r="1.5"/>
<circle cx="384.40" cy="200.80" r="1.5"/>
<circle cx="384.40" cy="208.40" r="1.5"/>
<circle cx="384.40" cy="213.90" r="1.5"/>
<circle cx="384.40" cy="218.80" r="1.5"/>
<circle cx="384.40" cy="221.30" r="1.5"/>
<circle cx="400.95" cy="171.50" r="1.5"/>
<circle cx="400.95" cy="177.80" r="1.5"/>
<circle cx="400.95" cy="182.60" r="1.5"/>
<circle cx="400.95" cy="190.10" r="1.5"/>
<circle cx="400.95" cy="199.40" r="1.5"/>
<circle cx="400.95" cy="205.60" r="1.5"/>
<circle cx="400.95" cy="207.50" r="1.5"/>
<circle cx="400.95" cy="209.30" r="1.5"/>
<circle cx="400.95" cy="211.30" r="1.5"/>
<circle cx="400.95" cy="216.20" r="1.5"/>
<circle cx="417.50" cy="166.80" r="1.5"/>
<circle cx="417.50" cy="188.70" r="1.5"/>
<circle cx="417.50" cy="196.20" r="1.5"/>
<circle cx="417.50" cy="198.00" r="1.5"/>
<circle cx="417.50" cy="201.10" r="1.5"/>
<circle cx="417.50" cy="202.50" r="1.5"/>
<circle cx="417.50" cy="209.60" r="1.5"/>
<circle cx="417.50" cy="212.40" r="1.5"/>
<circle cx="434.05" cy="150.60" r="1.5"/>
<circle cx="434.05" cy="187.70" r="1.5"/>
<circle cx="434.05" cy="193.40" r="1.5"/>
<circle cx="434.05" cy="196.20" r="1.5"/>
<circle cx="434.05" cy="206.50" r="1.5"/>
<circle cx="434.05" cy="208.50" r="1.5"/>
<circle cx="434.05" cy="210.50" r="1.5"/>
<circle cx="434.05" cy="212.50" r="1.5"/>
<circle cx="434.05" cy="214.50" r="1.5"/>
<circle cx="434.05" cy="216.50" r="1.5"/>
<circle cx="434.05" cy="217.70" r="1.5"/>
<circle cx="450.60" cy="163.60" r="1.5"/>
<circle cx="450.60" cy="179.50" r="1.5"/>
<circle cx="450.60" cy="184.50" r="1.5"/>
<circle cx="450.60" cy="188.50" r="1.5"/>
<circle cx="450.60" cy="197.20" r="1.5"/>
<circle cx="450.60" cy="202.80" r="1.5"/>
<circle cx="450.60" cy="204.60" r="1.5"/>
<circle cx="450.60" cy="206.50" r="1.5"/>
<circle cx="450.60" cy="211.30" r="1.5"/>
<circle cx="450.60" cy="244.60" r="1.5"/>
<polyline points="318.20,220.60 334.75,219.10 351.30,217.60 367.85,213.10 384.40,206.80 400.95,197.20 417.50,198.30 434.05,199.40 450.60,198.00" fill="none" stroke="#ff0000" stroke-width="1.8" stroke-linejoin="round"/>
<rect x="311.50" y="145.60" width="145.30" height="107.80" fill="none" stroke="#9a9a9a" stroke-width="1.1"/>
<line x1="309.90" y1="249.80" x2="311.50" y2="249.80" stroke="#444" stroke-width="0.5"/>
<text x="309.70" y="251.70" class="tk" text-anchor="end">2500</text>
<line x1="309.90" y1="235.59" x2="311.50" y2="235.59" stroke="#444" stroke-width="0.5"/>
<text x="309.70" y="237.49" class="tk" text-anchor="end">5000</text>
<line x1="309.90" y1="221.38" x2="311.50" y2="221.38" stroke="#444" stroke-width="0.5"/>
<text x="309.70" y="223.28" class="tk" text-anchor="end">7500</text>
<line x1="309.90" y1="207.17" x2="311.50" y2="207.17" stroke="#444" stroke-width="0.5"/>
<text x="309.70" y="209.07" class="tk" text-anchor="end">10,000</text>
<line x1="309.90" y1="192.96" x2="311.50" y2="192.96" stroke="#444" stroke-width="0.5"/>
<text x="309.70" y="194.86" class="tk" text-anchor="end">12,500</text>
<line x1="309.90" y1="178.75" x2="311.50" y2="178.75" stroke="#444" stroke-width="0.5"/>
<text x="309.70" y="180.65" class="tk" text-anchor="end">15,000</text>
<line x1="309.90" y1="164.54" x2="311.50" y2="164.54" stroke="#444" stroke-width="0.5"/>
<text x="309.70" y="166.44" class="tk" text-anchor="end">17,500</text>
<line x1="309.90" y1="150.33" x2="311.50" y2="150.33" stroke="#444" stroke-width="0.5"/>
<text x="309.70" y="152.23" class="tk" text-anchor="end">20,000</text>
<line x1="318.20" y1="253.40" x2="318.20" y2="255.00" stroke="#444" stroke-width="0.5"/>
<text transform="translate(318.20,260.75) scale(0.88,1)" class="tkx" text-anchor="middle">2013</text>
<line x1="334.75" y1="253.40" x2="334.75" y2="255.00" stroke="#444" stroke-width="0.5"/>
<text transform="translate(334.75,260.75) scale(0.88,1)" class="tkx" text-anchor="middle">2014</text>
<line x1="351.30" y1="253.40" x2="351.30" y2="255.00" stroke="#444" stroke-width="0.5"/>
<text transform="translate(351.30,260.75) scale(0.88,1)" class="tkx" text-anchor="middle">2015</text>
<line x1="367.85" y1="253.40" x2="367.85" y2="255.00" stroke="#444" stroke-width="0.5"/>
<text transform="translate(367.85,260.75) scale(0.88,1)" class="tkx" text-anchor="middle">2016</text>
<line x1="384.40" y1="253.40" x2="384.40" y2="255.00" stroke="#444" stroke-width="0.5"/>
<text transform="translate(384.40,260.75) scale(0.88,1)" class="tkx" text-anchor="middle">2017</text>
<line x1="400.95" y1="253.40" x2="400.95" y2="255.00" stroke="#444" stroke-width="0.5"/>
<text transform="translate(400.95,260.75) scale(0.88,1)" class="tkx" text-anchor="middle">2018</text>
<line x1="417.50" y1="253.40" x2="417.50" y2="255.00" stroke="#444" stroke-width="0.5"/>
<text transform="translate(417.50,260.75) scale(0.88,1)" class="tkx" text-anchor="middle">2019</text>
<line x1="434.05" y1="253.40" x2="434.05" y2="255.00" stroke="#444" stroke-width="0.5"/>
<text transform="translate(434.05,260.75) scale(0.88,1)" class="tkx" text-anchor="middle">2020</text>
<line x1="450.60" y1="253.40" x2="450.60" y2="255.00" stroke="#444" stroke-width="0.5"/>
<text transform="translate(450.60,260.75) scale(0.88,1)" class="tkx" text-anchor="middle">2021</text>
<text class="yl" transform="translate(288.90,199.30) rotate(-90)" text-anchor="middle">County light intensity (nW·cm<tspan baseline-shift="super" font-size="3.6">−2</tspan>·sr<tspan baseline-shift="super" font-size="3.6">−1</tspan>)</text>
<text class="xl" transform="translate(380.40,270.60) scale(0.95,1)" text-anchor="middle">Year</text>
<text class="cap" x="380.30" y="279.70" text-anchor="middle">(e)Cluster 5</text>
</svg></div>
</body></html>
